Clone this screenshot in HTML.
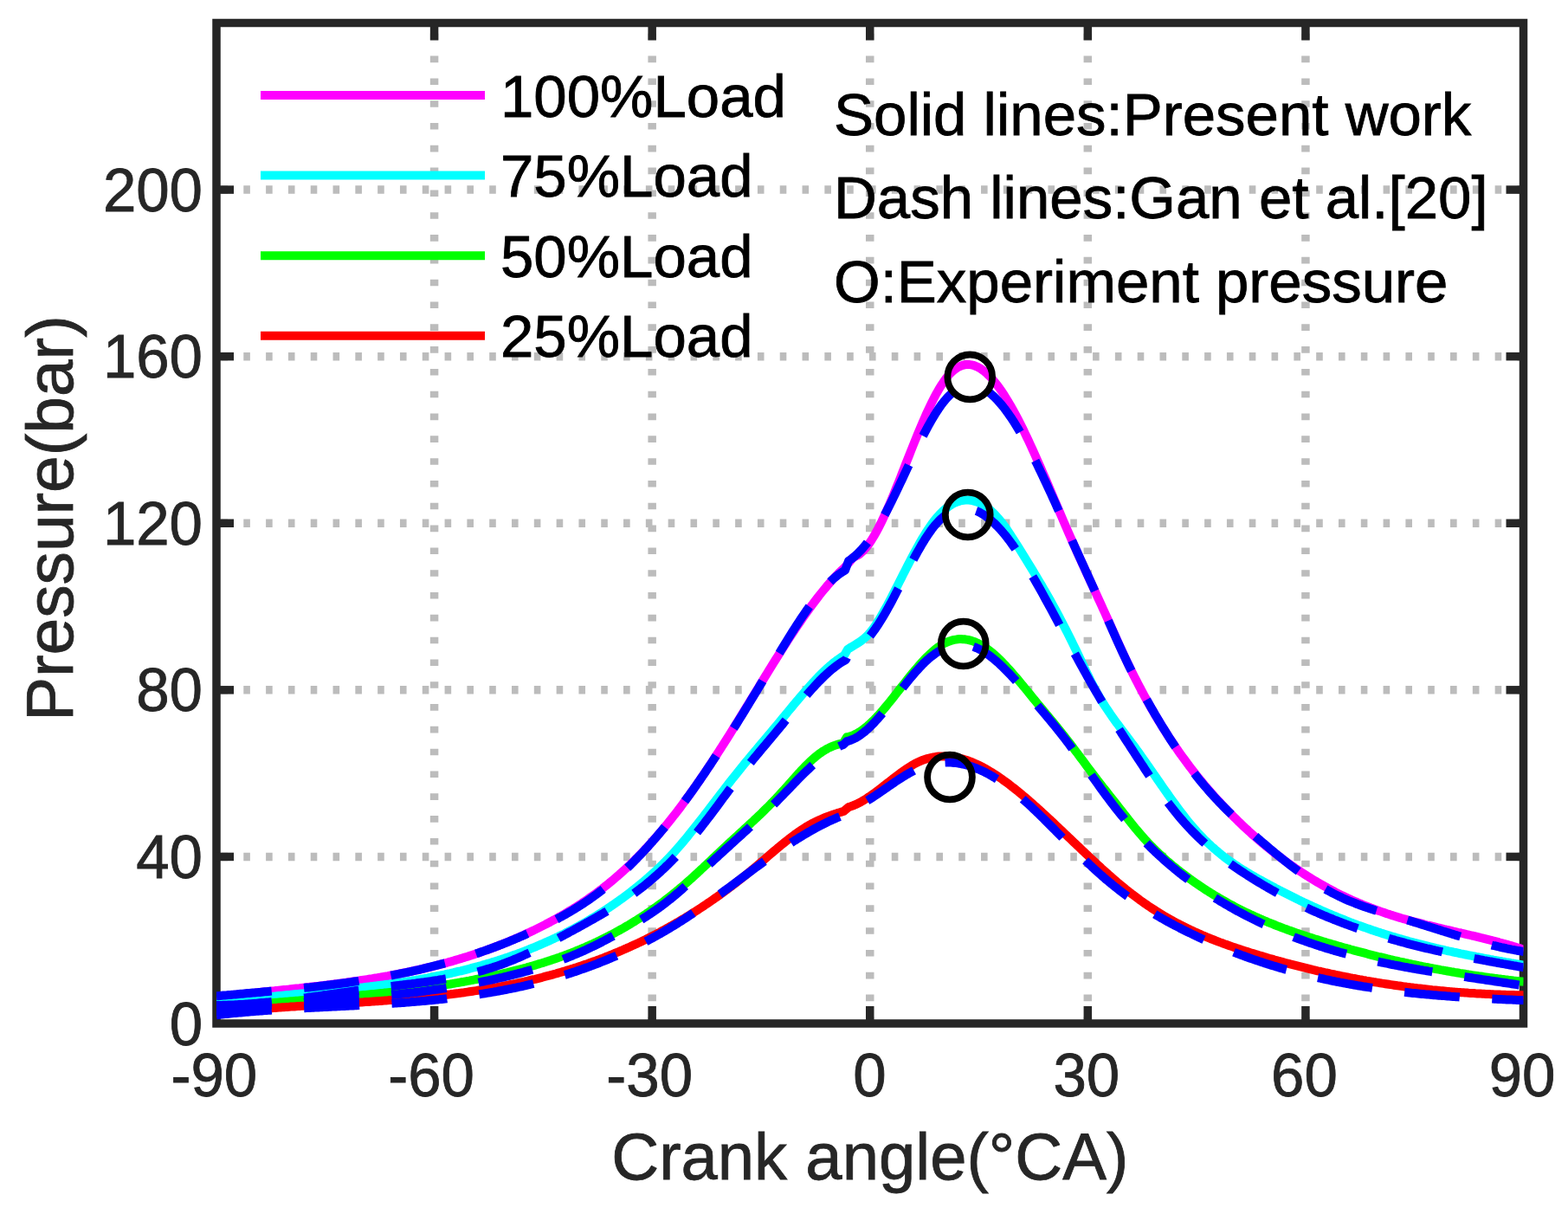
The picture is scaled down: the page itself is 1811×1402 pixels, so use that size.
<!DOCTYPE html><html><head><meta charset="utf-8"><title>Pressure vs crank angle</title>
<style>html,body{margin:0;padding:0;background:#fff;overflow:hidden}svg{display:block}text{font-family:"Liberation Sans",Arial,Helvetica,sans-serif;stroke-width:0.8px}</style></head><body>
<svg width="1811" height="1402" viewBox="0 0 1811 1402">
<rect width="1811" height="1402" fill="#fff"/>
<defs><clipPath id="ax"><rect x="250.0" y="26.5" width="1509.5" height="1155.5"/></clipPath></defs>
<g stroke="#bcbcbc" stroke-width="9.5" fill="none"><line x1="501.58" y1="1182.0" x2="501.58" y2="26.5" stroke-dasharray="7.6 18.21" stroke-dashoffset="0"/><line x1="753.17" y1="1182.0" x2="753.17" y2="26.5" stroke-dasharray="7.6 18.21" stroke-dashoffset="0"/><line x1="1004.75" y1="1182.0" x2="1004.75" y2="26.5" stroke-dasharray="7.6 18.21" stroke-dashoffset="0"/><line x1="1256.33" y1="1182.0" x2="1256.33" y2="26.5" stroke-dasharray="7.6 18.21" stroke-dashoffset="0"/><line x1="1507.92" y1="1182.0" x2="1507.92" y2="26.5" stroke-dasharray="7.6 18.21" stroke-dashoffset="0"/><line x1="250.0" y1="989.42" x2="1759.5" y2="989.42" stroke-dasharray="7.6 18.21" stroke-dashoffset="-5.48"/><line x1="250.0" y1="796.83" x2="1759.5" y2="796.83" stroke-dasharray="7.6 18.21" stroke-dashoffset="-5.48"/><line x1="250.0" y1="604.25" x2="1759.5" y2="604.25" stroke-dasharray="7.6 18.21" stroke-dashoffset="-5.48"/><line x1="250.0" y1="411.67" x2="1759.5" y2="411.67" stroke-dasharray="7.6 18.21" stroke-dashoffset="-5.48"/><line x1="250.0" y1="219.08" x2="1759.5" y2="219.08" stroke-dasharray="7.6 18.21" stroke-dashoffset="-5.48"/></g>
<g stroke="#262626" stroke-width="9.5" fill="none"><rect x="250.0" y="26.5" width="1509.5" height="1155.5" fill="none"/><line x1="501.58" y1="1182.0" x2="501.58" y2="1162.0"/><line x1="501.58" y1="26.5" x2="501.58" y2="46.5"/><line x1="753.17" y1="1182.0" x2="753.17" y2="1162.0"/><line x1="753.17" y1="26.5" x2="753.17" y2="46.5"/><line x1="1004.75" y1="1182.0" x2="1004.75" y2="1162.0"/><line x1="1004.75" y1="26.5" x2="1004.75" y2="46.5"/><line x1="1256.33" y1="1182.0" x2="1256.33" y2="1162.0"/><line x1="1256.33" y1="26.5" x2="1256.33" y2="46.5"/><line x1="1507.92" y1="1182.0" x2="1507.92" y2="1162.0"/><line x1="1507.92" y1="26.5" x2="1507.92" y2="46.5"/><line x1="250.0" y1="989.42" x2="270.0" y2="989.42"/><line x1="1759.5" y1="989.42" x2="1739.5" y2="989.42"/><line x1="250.0" y1="796.83" x2="270.0" y2="796.83"/><line x1="1759.5" y1="796.83" x2="1739.5" y2="796.83"/><line x1="250.0" y1="604.25" x2="270.0" y2="604.25"/><line x1="1759.5" y1="604.25" x2="1739.5" y2="604.25"/><line x1="250.0" y1="411.67" x2="270.0" y2="411.67"/><line x1="1759.5" y1="411.67" x2="1739.5" y2="411.67"/><line x1="250.0" y1="219.08" x2="270.0" y2="219.08"/><line x1="1759.5" y1="219.08" x2="1739.5" y2="219.08"/></g>
<g clip-path="url(#ax)" fill="none" stroke-width="10" stroke-linejoin="round">
<polyline stroke="#ff00ff" points="250.0,1151.5 252.0,1151.3 254.0,1151.1 256.0,1150.8 258.0,1150.6 260.0,1150.4 262.0,1150.1 264.0,1149.9 266.0,1149.7 268.0,1149.5 270.0,1149.2 272.0,1149.0 274.0,1148.8 276.0,1148.6 278.0,1148.4 280.0,1148.2 282.0,1147.9 284.0,1147.7 286.0,1147.5 288.0,1147.3 290.0,1147.1 292.0,1146.9 294.0,1146.7 296.0,1146.4 298.0,1146.2 300.0,1146.0 302.0,1145.8 304.0,1145.6 306.0,1145.4 308.0,1145.2 310.0,1145.0 312.0,1144.8 314.0,1144.6 316.0,1144.4 318.0,1144.1 320.0,1143.9 322.0,1143.7 324.0,1143.5 326.0,1143.3 328.0,1143.1 330.0,1142.9 332.0,1142.7 334.0,1142.5 336.0,1142.2 338.0,1142.0 340.0,1141.8 342.0,1141.6 344.0,1141.4 346.0,1141.2 348.0,1140.9 350.0,1140.7 352.0,1140.5 354.0,1140.3 356.0,1140.1 358.0,1139.8 360.0,1139.6 362.0,1139.4 364.0,1139.1 366.0,1138.9 368.0,1138.7 370.0,1138.4 372.0,1138.2 374.0,1138.0 376.0,1137.7 378.0,1137.5 380.0,1137.2 382.0,1137.0 384.0,1136.7 386.0,1136.5 388.0,1136.2 390.0,1136.0 392.0,1135.7 394.0,1135.4 396.0,1135.2 398.0,1134.9 400.0,1134.6 402.0,1134.3 404.0,1134.1 406.0,1133.8 408.0,1133.5 410.0,1133.2 412.0,1132.9 414.0,1132.6 416.0,1132.3 418.0,1132.0 420.0,1131.7 422.0,1131.4 424.0,1131.1 426.0,1130.8 428.0,1130.5 430.0,1130.2 432.0,1129.8 434.0,1129.5 436.0,1129.2 438.0,1128.8 440.0,1128.5 442.0,1128.1 444.0,1127.8 446.0,1127.4 448.0,1127.1 450.0,1126.7 452.0,1126.3 454.0,1126.0 456.0,1125.6 458.0,1125.2 460.0,1124.8 462.0,1124.4 464.0,1124.0 466.0,1123.6 468.0,1123.2 470.0,1122.8 472.0,1122.4 474.0,1122.0 476.0,1121.5 478.0,1121.1 480.0,1120.7 482.0,1120.2 484.0,1119.8 486.0,1119.3 488.0,1118.9 490.0,1118.4 492.0,1117.9 494.0,1117.4 496.0,1117.0 498.0,1116.5 500.0,1116.0 502.0,1115.5 504.0,1115.0 506.0,1114.4 508.0,1113.9 510.0,1113.4 512.0,1112.9 514.0,1112.3 516.0,1111.8 518.0,1111.2 520.0,1110.7 522.0,1110.1 524.0,1109.5 526.0,1108.9 528.0,1108.3 530.0,1107.7 532.0,1107.1 534.0,1106.5 536.0,1105.9 538.0,1105.3 540.0,1104.7 542.0,1104.0 544.0,1103.4 546.0,1102.7 548.0,1102.1 550.0,1101.4 552.0,1100.7 554.0,1100.0 556.0,1099.3 558.0,1098.6 560.0,1097.9 562.0,1097.2 564.0,1096.5 566.0,1095.8 568.0,1095.0 570.0,1094.3 572.0,1093.5 574.0,1092.7 576.0,1092.0 578.0,1091.2 580.0,1090.4 582.0,1089.6 584.0,1088.8 586.0,1088.0 588.0,1087.1 590.0,1086.3 592.0,1085.4 594.0,1084.6 596.0,1083.7 598.0,1082.9 600.0,1082.0 602.0,1081.1 604.0,1080.2 606.0,1079.3 608.0,1078.3 610.0,1077.4 612.0,1076.5 614.0,1075.5 616.0,1074.6 618.0,1073.6 620.0,1072.6 622.0,1071.6 624.0,1070.6 626.0,1069.6 628.0,1068.6 630.0,1067.6 632.0,1066.5 634.0,1065.5 636.0,1064.4 638.0,1063.3 640.0,1062.3 642.0,1061.2 644.0,1060.1 646.0,1058.9 648.0,1057.8 650.0,1056.7 652.0,1055.5 654.0,1054.3 656.0,1053.1 658.0,1051.9 660.0,1050.7 662.0,1049.5 664.0,1048.2 666.0,1047.0 668.0,1045.7 670.0,1044.4 672.0,1043.1 674.0,1041.7 676.0,1040.4 678.0,1039.0 680.0,1037.6 682.0,1036.2 684.0,1034.8 686.0,1033.4 688.0,1031.9 690.0,1030.4 692.0,1029.0 694.0,1027.4 696.0,1025.9 698.0,1024.3 700.0,1022.8 702.0,1021.2 704.0,1019.5 706.0,1017.9 708.0,1016.2 710.0,1014.5 712.0,1012.8 714.0,1011.1 716.0,1009.3 718.0,1007.5 720.0,1005.7 722.0,1003.9 724.0,1002.0 726.0,1000.2 728.0,998.3 730.0,996.3 732.0,994.4 734.0,992.4 736.0,990.4 738.0,988.3 740.0,986.3 742.0,984.2 744.0,982.1 746.0,980.0 748.0,977.8 750.0,975.6 752.0,973.4 754.0,971.2 756.0,968.9 758.0,966.6 760.0,964.3 762.0,962.0 764.0,959.6 766.0,957.2 768.0,954.8 770.0,952.4 772.0,949.9 774.0,947.4 776.0,944.9 778.0,942.3 780.0,939.8 782.0,937.2 784.0,934.6 786.0,931.9 788.0,929.3 790.0,926.6 792.0,923.8 794.0,921.1 796.0,918.3 798.0,915.5 800.0,912.7 802.0,909.9 804.0,907.0 806.0,904.2 808.0,901.3 810.0,898.3 812.0,895.4 814.0,892.4 816.0,889.5 818.0,886.5 820.0,883.5 822.0,880.4 824.0,877.4 826.0,874.3 828.0,871.2 830.0,868.1 832.0,865.0 834.0,861.9 836.0,858.8 838.0,855.6 840.0,852.5 842.0,849.3 844.0,846.1 846.0,842.9 848.0,839.7 850.0,836.4 852.0,833.2 854.0,830.0 856.0,826.7 858.0,823.5 860.0,820.2 862.0,816.9 864.0,813.7 866.0,810.4 868.0,807.1 870.0,803.8 872.0,800.6 874.0,797.3 876.0,794.0 878.0,790.7 880.0,787.5 882.0,784.2 884.0,780.9 886.0,777.7 888.0,774.4 890.0,771.2 892.0,767.9 894.0,764.7 896.0,761.5 898.0,758.3 900.0,755.1 902.0,751.9 904.0,748.8 906.0,745.6 908.0,742.5 910.0,739.4 912.0,736.3 914.0,733.3 916.0,730.2 918.0,727.2 920.0,724.2 922.0,721.2 924.0,718.3 926.0,715.4 928.0,712.5 930.0,709.6 932.0,706.8 934.0,704.0 936.0,701.3 938.0,698.5 940.0,695.9 942.0,693.2 944.0,690.6 946.0,688.0 948.0,685.5 950.0,683.0 952.0,680.6 954.0,678.2 956.0,675.8 958.0,673.5 960.0,671.2 962.0,669.0 964.0,666.8 966.0,664.7 968.0,662.6 970.0,660.6 972.0,658.7 974.0,656.8 976.0,654.9 986.0,643.2 988.0,642.6 990.0,641.6 992.0,640.4 994.0,638.9 996.0,637.1 998.0,635.0 1000.0,632.8 1002.0,630.3 1004.0,627.5 1006.0,624.6 1008.0,621.4 1010.0,618.1 1012.0,614.5 1014.0,610.8 1016.0,606.9 1018.0,602.9 1020.0,598.8 1022.0,594.5 1024.0,590.0 1026.0,585.5 1028.0,580.9 1030.0,576.1 1032.0,571.3 1034.0,566.4 1036.0,561.5 1038.0,556.5 1040.0,551.5 1042.0,546.4 1044.0,541.3 1046.0,536.2 1048.0,531.2 1050.0,526.1 1052.0,521.0 1054.0,516.0 1056.0,511.0 1058.0,506.1 1060.0,501.2 1062.0,496.4 1064.0,491.6 1066.0,487.0 1068.0,482.4 1070.0,477.9 1072.0,473.6 1074.0,469.3 1076.0,465.2 1078.0,461.2 1080.0,457.4 1082.0,453.7 1084.0,450.2 1086.0,446.9 1088.0,443.7 1090.0,440.7 1092.0,437.9 1094.0,435.3 1096.0,432.9 1098.0,430.8 1100.0,428.9 1102.0,427.2 1104.0,425.7 1106.0,424.4 1108.0,423.3 1110.0,422.5 1112.0,421.8 1114.0,421.3 1116.0,421.0 1118.0,421.0 1120.0,421.1 1122.0,421.4 1124.0,421.8 1126.0,422.5 1128.0,423.3 1130.0,424.3 1132.0,425.4 1134.0,426.7 1136.0,428.2 1138.0,429.8 1140.0,431.6 1142.0,433.5 1144.0,435.5 1146.0,437.7 1148.0,440.1 1150.0,442.5 1152.0,445.1 1154.0,447.8 1156.0,450.6 1158.0,453.6 1160.0,456.6 1162.0,459.8 1164.0,463.1 1166.0,466.5 1168.0,469.9 1170.0,473.5 1172.0,477.1 1174.0,480.9 1176.0,484.7 1178.0,488.6 1180.0,492.6 1182.0,496.6 1184.0,500.8 1186.0,505.0 1188.0,509.2 1190.0,513.5 1192.0,517.8 1194.0,522.3 1196.0,526.7 1198.0,531.2 1200.0,535.7 1202.0,540.3 1204.0,544.9 1206.0,549.5 1208.0,554.1 1210.0,558.8 1212.0,563.5 1214.0,568.2 1216.0,572.9 1218.0,577.6 1220.0,582.3 1222.0,587.0 1224.0,591.7 1226.0,596.4 1228.0,601.1 1230.0,605.7 1232.0,610.4 1234.0,615.0 1236.0,619.6 1238.0,624.1 1240.0,628.6 1242.0,633.1 1244.0,637.6 1246.0,642.0 1248.0,646.5 1250.0,650.9 1252.0,655.2 1254.0,659.6 1256.0,664.0 1258.0,668.3 1260.0,672.7 1262.0,677.0 1264.0,681.4 1266.0,685.7 1268.0,690.1 1270.0,694.4 1272.0,698.8 1274.0,703.2 1276.0,707.5 1278.0,712.0 1280.0,716.4 1282.0,720.8 1284.0,725.3 1286.0,729.8 1288.0,734.3 1290.0,738.7 1292.0,743.2 1294.0,747.6 1296.0,752.0 1298.0,756.3 1300.0,760.6 1302.0,764.8 1304.0,769.0 1306.0,773.1 1308.0,777.2 1310.0,781.2 1312.0,785.1 1314.0,789.0 1316.0,792.8 1318.0,796.6 1320.0,800.4 1322.0,804.1 1324.0,807.7 1326.0,811.3 1328.0,814.9 1330.0,818.4 1332.0,821.8 1334.0,825.3 1336.0,828.6 1338.0,832.0 1340.0,835.2 1342.0,838.5 1344.0,841.7 1346.0,844.9 1348.0,848.0 1350.0,851.1 1352.0,854.1 1354.0,857.1 1356.0,860.1 1358.0,863.0 1360.0,865.9 1362.0,868.8 1364.0,871.6 1366.0,874.4 1368.0,877.1 1370.0,879.8 1372.0,882.5 1374.0,885.2 1376.0,887.8 1378.0,890.4 1380.0,892.9 1382.0,895.5 1384.0,897.9 1386.0,900.4 1388.0,902.8 1390.0,905.2 1392.0,907.6 1394.0,910.0 1396.0,912.3 1398.0,914.6 1400.0,916.9 1402.0,919.1 1404.0,921.3 1406.0,923.5 1408.0,925.7 1410.0,927.9 1412.0,930.0 1414.0,932.1 1416.0,934.2 1418.0,936.3 1420.0,938.3 1422.0,940.3 1424.0,942.4 1426.0,944.3 1428.0,946.3 1430.0,948.3 1432.0,950.2 1434.0,952.1 1436.0,954.0 1438.0,955.9 1440.0,957.7 1442.0,959.6 1444.0,961.4 1446.0,963.2 1448.0,965.0 1450.0,966.7 1452.0,968.5 1454.0,970.2 1456.0,971.9 1458.0,973.6 1460.0,975.3 1462.0,977.0 1464.0,978.6 1466.0,980.2 1468.0,981.8 1470.0,983.4 1472.0,985.0 1474.0,986.6 1476.0,988.1 1478.0,989.6 1480.0,991.1 1482.0,992.6 1484.0,994.1 1486.0,995.5 1488.0,997.0 1490.0,998.4 1492.0,999.8 1494.0,1001.2 1496.0,1002.6 1498.0,1003.9 1500.0,1005.3 1502.0,1006.6 1504.0,1007.9 1506.0,1009.2 1508.0,1010.5 1510.0,1011.8 1512.0,1013.0 1514.0,1014.3 1516.0,1015.5 1518.0,1016.7 1520.0,1017.9 1522.0,1019.1 1524.0,1020.2 1526.0,1021.4 1528.0,1022.5 1530.0,1023.6 1532.0,1024.7 1534.0,1025.8 1536.0,1026.9 1538.0,1028.0 1540.0,1029.0 1542.0,1030.1 1544.0,1031.1 1546.0,1032.1 1548.0,1033.1 1550.0,1034.1 1552.0,1035.0 1554.0,1036.0 1556.0,1036.9 1558.0,1037.9 1560.0,1038.8 1562.0,1039.7 1564.0,1040.6 1566.0,1041.4 1568.0,1042.3 1570.0,1043.2 1572.0,1044.0 1574.0,1044.8 1576.0,1045.6 1578.0,1046.4 1580.0,1047.2 1582.0,1048.0 1584.0,1048.8 1586.0,1049.5 1588.0,1050.3 1590.0,1051.0 1592.0,1051.7 1594.0,1052.4 1596.0,1053.1 1598.0,1053.8 1600.0,1054.5 1602.0,1055.2 1604.0,1055.8 1606.0,1056.5 1608.0,1057.1 1610.0,1057.7 1612.0,1058.4 1614.0,1059.0 1616.0,1059.6 1618.0,1060.2 1620.0,1060.8 1622.0,1061.3 1624.0,1061.9 1626.0,1062.5 1628.0,1063.0 1630.0,1063.6 1632.0,1064.1 1634.0,1064.7 1636.0,1065.2 1638.0,1065.7 1640.0,1066.2 1642.0,1066.7 1644.0,1067.2 1646.0,1067.8 1648.0,1068.3 1650.0,1068.7 1652.0,1069.2 1654.0,1069.7 1656.0,1070.2 1658.0,1070.7 1660.0,1071.2 1662.0,1071.6 1664.0,1072.1 1666.0,1072.6 1668.0,1073.1 1670.0,1073.5 1672.0,1074.0 1674.0,1074.4 1676.0,1074.9 1678.0,1075.4 1680.0,1075.8 1682.0,1076.3 1684.0,1076.8 1686.0,1077.2 1688.0,1077.7 1690.0,1078.1 1692.0,1078.6 1694.0,1079.1 1696.0,1079.5 1698.0,1080.0 1700.0,1080.5 1702.0,1080.9 1704.0,1081.4 1706.0,1081.9 1708.0,1082.4 1710.0,1082.9 1712.0,1083.3 1714.0,1083.8 1716.0,1084.3 1718.0,1084.8 1720.0,1085.3 1722.0,1085.8 1724.0,1086.4 1726.0,1086.9 1728.0,1087.4 1730.0,1087.9 1732.0,1088.5 1734.0,1089.0 1736.0,1089.6 1738.0,1090.1 1740.0,1090.7 1742.0,1091.2 1744.0,1091.8 1746.0,1092.4 1748.0,1093.0 1750.0,1093.6 1752.0,1094.2 1754.0,1094.8 1756.0,1095.4 1758.0,1096.1 1760.0,1096.7"/>
<polyline stroke="#00ffff" points="250.0,1158.3 252.0,1158.0 254.0,1157.7 256.0,1157.5 258.0,1157.2 260.0,1156.9 262.0,1156.7 264.0,1156.4 266.0,1156.2 268.0,1155.9 270.0,1155.7 272.0,1155.4 274.0,1155.2 276.0,1155.0 278.0,1154.7 280.0,1154.5 282.0,1154.3 284.0,1154.0 286.0,1153.8 288.0,1153.6 290.0,1153.4 292.0,1153.1 294.0,1152.9 296.0,1152.7 298.0,1152.5 300.0,1152.3 302.0,1152.1 304.0,1151.9 306.0,1151.7 308.0,1151.5 310.0,1151.3 312.0,1151.1 314.0,1150.9 316.0,1150.7 318.0,1150.5 320.0,1150.3 322.0,1150.1 324.0,1149.9 326.0,1149.7 328.0,1149.5 330.0,1149.3 332.0,1149.1 334.0,1148.9 336.0,1148.7 338.0,1148.5 340.0,1148.3 342.0,1148.1 344.0,1148.0 346.0,1147.8 348.0,1147.6 350.0,1147.4 352.0,1147.2 354.0,1147.0 356.0,1146.8 358.0,1146.6 360.0,1146.4 362.0,1146.3 364.0,1146.1 366.0,1145.9 368.0,1145.7 370.0,1145.5 372.0,1145.3 374.0,1145.1 376.0,1144.9 378.0,1144.7 380.0,1144.5 382.0,1144.3 384.0,1144.1 386.0,1143.9 388.0,1143.7 390.0,1143.5 392.0,1143.3 394.0,1143.1 396.0,1142.9 398.0,1142.7 400.0,1142.5 402.0,1142.3 404.0,1142.1 406.0,1141.8 408.0,1141.6 410.0,1141.4 412.0,1141.2 414.0,1141.0 416.0,1140.7 418.0,1140.5 420.0,1140.3 422.0,1140.0 424.0,1139.8 426.0,1139.6 428.0,1139.3 430.0,1139.1 432.0,1138.8 434.0,1138.6 436.0,1138.3 438.0,1138.1 440.0,1137.8 442.0,1137.6 444.0,1137.3 446.0,1137.0 448.0,1136.7 450.0,1136.5 452.0,1136.2 454.0,1135.9 456.0,1135.6 458.0,1135.3 460.0,1135.0 462.0,1134.7 464.0,1134.4 466.0,1134.1 468.0,1133.8 470.0,1133.5 472.0,1133.2 474.0,1132.9 476.0,1132.5 478.0,1132.2 480.0,1131.9 482.0,1131.5 484.0,1131.2 486.0,1130.8 488.0,1130.5 490.0,1130.1 492.0,1129.7 494.0,1129.4 496.0,1129.0 498.0,1128.6 500.0,1128.2 502.0,1127.8 504.0,1127.4 506.0,1127.0 508.0,1126.6 510.0,1126.2 512.0,1125.8 514.0,1125.4 516.0,1124.9 518.0,1124.5 520.0,1124.1 522.0,1123.6 524.0,1123.2 526.0,1122.7 528.0,1122.2 530.0,1121.7 532.0,1121.3 534.0,1120.8 536.0,1120.3 538.0,1119.8 540.0,1119.3 542.0,1118.8 544.0,1118.2 546.0,1117.7 548.0,1117.2 550.0,1116.6 552.0,1116.1 554.0,1115.5 556.0,1115.0 558.0,1114.4 560.0,1113.8 562.0,1113.2 564.0,1112.7 566.0,1112.1 568.0,1111.4 570.0,1110.8 572.0,1110.2 574.0,1109.6 576.0,1108.9 578.0,1108.3 580.0,1107.6 582.0,1107.0 584.0,1106.3 586.0,1105.6 588.0,1104.9 590.0,1104.2 592.0,1103.5 594.0,1102.8 596.0,1102.1 598.0,1101.4 600.0,1100.6 602.0,1099.9 604.0,1099.1 606.0,1098.4 608.0,1097.6 610.0,1096.8 612.0,1096.0 614.0,1095.2 616.0,1094.4 618.0,1093.6 620.0,1092.7 622.0,1091.9 624.0,1091.0 626.0,1090.2 628.0,1089.3 630.0,1088.4 632.0,1087.5 634.0,1086.6 636.0,1085.7 638.0,1084.8 640.0,1083.9 642.0,1082.9 644.0,1082.0 646.0,1081.0 648.0,1080.0 650.0,1079.1 652.0,1078.1 654.0,1077.0 656.0,1076.0 658.0,1075.0 660.0,1073.9 662.0,1072.9 664.0,1071.8 666.0,1070.7 668.0,1069.7 670.0,1068.5 672.0,1067.4 674.0,1066.3 676.0,1065.2 678.0,1064.0 680.0,1062.8 682.0,1061.6 684.0,1060.4 686.0,1059.2 688.0,1058.0 690.0,1056.8 692.0,1055.5 694.0,1054.2 696.0,1053.0 698.0,1051.7 700.0,1050.4 702.0,1049.0 704.0,1047.7 706.0,1046.3 708.0,1045.0 710.0,1043.6 712.0,1042.2 714.0,1040.8 716.0,1039.3 718.0,1037.9 720.0,1036.4 722.0,1034.9 724.0,1033.4 726.0,1031.9 728.0,1030.4 730.0,1028.8 732.0,1027.3 734.0,1025.7 736.0,1024.1 738.0,1022.5 740.0,1020.8 742.0,1019.2 744.0,1017.5 746.0,1015.8 748.0,1014.1 750.0,1012.3 752.0,1010.5 754.0,1008.7 756.0,1006.9 758.0,1005.1 760.0,1003.2 762.0,1001.3 764.0,999.3 766.0,997.4 768.0,995.4 770.0,993.3 772.0,991.3 774.0,989.1 776.0,987.0 778.0,984.8 780.0,982.6 782.0,980.3 784.0,978.0 786.0,975.7 788.0,973.4 790.0,971.0 792.0,968.6 794.0,966.2 796.0,963.7 798.0,961.2 800.0,958.7 802.0,956.2 804.0,953.7 806.0,951.2 808.0,948.6 810.0,946.0 812.0,943.5 814.0,940.9 816.0,938.3 818.0,935.7 820.0,933.1 822.0,930.4 824.0,927.8 826.0,925.2 828.0,922.6 830.0,920.0 832.0,917.4 834.0,914.8 836.0,912.2 838.0,909.6 840.0,907.0 842.0,904.4 844.0,901.9 846.0,899.3 848.0,896.8 850.0,894.3 852.0,891.8 854.0,889.3 856.0,886.8 858.0,884.4 860.0,881.9 862.0,879.5 864.0,877.1 866.0,874.7 868.0,872.3 870.0,869.9 872.0,867.5 874.0,865.1 876.0,862.7 878.0,860.4 880.0,858.0 882.0,855.6 884.0,853.3 886.0,850.9 888.0,848.5 890.0,846.1 892.0,843.7 894.0,841.4 896.0,839.0 898.0,836.5 900.0,834.1 902.0,831.7 904.0,829.3 906.0,826.9 908.0,824.5 910.0,822.0 912.0,819.6 914.0,817.2 916.0,814.8 918.0,812.4 920.0,810.0 922.0,807.7 924.0,805.3 926.0,803.0 928.0,800.6 930.0,798.3 932.0,796.0 934.0,793.8 936.0,791.5 938.0,789.3 940.0,787.2 942.0,785.0 944.0,782.9 946.0,780.8 948.0,778.8 950.0,776.8 952.0,774.9 954.0,773.0 956.0,771.2 958.0,769.4 960.0,767.7 962.0,766.0 964.0,764.4 966.0,762.9 968.0,761.5 970.0,760.1 972.0,758.8 974.0,757.5 975.0,756.9 979.0,749.9 981.0,748.6 983.0,747.4 985.0,746.2 987.0,745.0 989.0,743.8 991.0,742.5 993.0,741.2 995.0,739.8 997.0,738.2 999.0,736.5 1001.0,734.7 1003.0,732.6 1005.0,730.4 1007.0,727.9 1009.0,725.2 1011.0,722.4 1013.0,719.3 1015.0,716.1 1017.0,712.8 1019.0,709.4 1021.0,705.8 1023.0,702.2 1025.0,698.6 1027.0,694.8 1029.0,691.0 1031.0,687.2 1033.0,683.3 1035.0,679.4 1037.0,675.5 1039.0,671.5 1041.0,667.6 1043.0,663.6 1045.0,659.7 1047.0,655.8 1049.0,651.9 1051.0,648.0 1053.0,644.2 1055.0,640.4 1057.0,636.6 1059.0,633.0 1061.0,629.4 1063.0,625.8 1065.0,622.4 1067.0,619.1 1069.0,615.8 1071.0,612.7 1073.0,609.7 1075.0,606.8 1077.0,604.0 1079.0,601.4 1081.0,598.9 1083.0,596.5 1085.0,594.3 1087.0,592.3 1089.0,590.3 1091.0,588.5 1093.0,586.9 1095.0,585.4 1097.0,584.0 1099.0,582.7 1101.0,581.6 1103.0,580.6 1105.0,579.8 1107.0,579.1 1109.0,578.5 1111.0,578.0 1113.0,577.7 1115.0,577.5 1117.0,577.5 1119.0,577.5 1121.0,577.8 1123.0,578.1 1125.0,578.6 1127.0,579.2 1129.0,579.9 1131.0,580.7 1133.0,581.7 1135.0,582.8 1137.0,584.1 1139.0,585.4 1141.0,586.9 1143.0,588.5 1145.0,590.3 1147.0,592.2 1149.0,594.1 1151.0,596.3 1153.0,598.5 1155.0,600.9 1157.0,603.4 1159.0,606.0 1161.0,608.7 1163.0,611.5 1165.0,614.5 1167.0,617.5 1169.0,620.6 1171.0,623.7 1173.0,626.9 1175.0,630.0 1177.0,633.2 1179.0,636.4 1181.0,639.6 1183.0,642.9 1185.0,646.1 1187.0,649.3 1189.0,652.6 1191.0,655.9 1193.0,659.2 1195.0,662.5 1197.0,665.8 1199.0,669.2 1201.0,672.5 1203.0,675.9 1205.0,679.4 1207.0,682.8 1209.0,686.3 1211.0,689.8 1213.0,693.3 1215.0,696.9 1217.0,700.6 1219.0,704.2 1221.0,707.9 1223.0,711.7 1225.0,715.5 1227.0,719.3 1229.0,723.2 1231.0,727.1 1233.0,731.0 1235.0,735.0 1237.0,739.0 1239.0,743.1 1241.0,747.2 1243.0,751.3 1245.0,755.5 1247.0,759.7 1249.0,763.9 1251.0,768.2 1253.0,772.4 1255.0,776.7 1257.0,780.8 1259.0,784.9 1261.0,788.9 1263.0,792.7 1265.0,796.5 1267.0,800.1 1269.0,803.6 1271.0,807.0 1273.0,810.3 1275.0,813.5 1277.0,816.6 1279.0,819.6 1281.0,822.6 1283.0,825.5 1285.0,828.4 1287.0,831.2 1289.0,833.9 1291.0,836.6 1293.0,839.3 1295.0,842.0 1297.0,844.6 1299.0,847.3 1301.0,849.9 1303.0,852.5 1305.0,855.2 1307.0,857.9 1309.0,860.6 1311.0,863.3 1313.0,866.1 1315.0,868.8 1317.0,871.6 1319.0,874.5 1321.0,877.3 1323.0,880.1 1325.0,883.0 1327.0,885.9 1329.0,888.8 1331.0,891.6 1333.0,894.5 1335.0,897.4 1337.0,900.3 1339.0,903.2 1341.0,906.1 1343.0,909.0 1345.0,911.8 1347.0,914.7 1349.0,917.5 1351.0,920.3 1353.0,923.1 1355.0,925.9 1357.0,928.6 1359.0,931.4 1361.0,934.0 1363.0,936.7 1365.0,939.3 1367.0,941.9 1369.0,944.5 1371.0,947.0 1373.0,949.5 1375.0,951.9 1377.0,954.3 1379.0,956.6 1381.0,958.9 1383.0,961.1 1385.0,963.2 1387.0,965.4 1389.0,967.4 1391.0,969.5 1393.0,971.4 1395.0,973.4 1397.0,975.2 1399.0,977.1 1401.0,978.9 1403.0,980.6 1405.0,982.4 1407.0,984.0 1409.0,985.7 1411.0,987.3 1413.0,988.9 1415.0,990.4 1417.0,991.9 1419.0,993.4 1421.0,994.8 1423.0,996.2 1425.0,997.6 1427.0,999.0 1429.0,1000.3 1431.0,1001.6 1433.0,1002.9 1435.0,1004.2 1437.0,1005.4 1439.0,1006.6 1441.0,1007.9 1443.0,1009.0 1445.0,1010.2 1447.0,1011.4 1449.0,1012.5 1451.0,1013.7 1453.0,1014.8 1455.0,1015.9 1457.0,1017.0 1459.0,1018.1 1461.0,1019.2 1463.0,1020.3 1465.0,1021.3 1467.0,1022.4 1469.0,1023.5 1471.0,1024.5 1473.0,1025.6 1475.0,1026.6 1477.0,1027.7 1479.0,1028.7 1481.0,1029.8 1483.0,1030.8 1485.0,1031.8 1487.0,1032.8 1489.0,1033.8 1491.0,1034.8 1493.0,1035.8 1495.0,1036.8 1497.0,1037.8 1499.0,1038.8 1501.0,1039.7 1503.0,1040.7 1505.0,1041.6 1507.0,1042.6 1509.0,1043.5 1511.0,1044.5 1513.0,1045.4 1515.0,1046.3 1517.0,1047.2 1519.0,1048.1 1521.0,1049.0 1523.0,1049.9 1525.0,1050.8 1527.0,1051.7 1529.0,1052.6 1531.0,1053.5 1533.0,1054.3 1535.0,1055.2 1537.0,1056.0 1539.0,1056.9 1541.0,1057.7 1543.0,1058.5 1545.0,1059.3 1547.0,1060.1 1549.0,1060.9 1551.0,1061.7 1553.0,1062.5 1555.0,1063.3 1557.0,1064.1 1559.0,1064.9 1561.0,1065.6 1563.0,1066.4 1565.0,1067.1 1567.0,1067.9 1569.0,1068.6 1571.0,1069.3 1573.0,1070.0 1575.0,1070.7 1577.0,1071.4 1579.0,1072.1 1581.0,1072.8 1583.0,1073.5 1585.0,1074.2 1587.0,1074.9 1589.0,1075.5 1591.0,1076.2 1593.0,1076.8 1595.0,1077.5 1597.0,1078.1 1599.0,1078.7 1601.0,1079.4 1603.0,1080.0 1605.0,1080.6 1607.0,1081.2 1609.0,1081.8 1611.0,1082.4 1613.0,1083.0 1615.0,1083.6 1617.0,1084.2 1619.0,1084.7 1621.0,1085.3 1623.0,1085.9 1625.0,1086.4 1627.0,1087.0 1629.0,1087.5 1631.0,1088.0 1633.0,1088.6 1635.0,1089.1 1637.0,1089.6 1639.0,1090.2 1641.0,1090.7 1643.0,1091.2 1645.0,1091.7 1647.0,1092.2 1649.0,1092.7 1651.0,1093.2 1653.0,1093.6 1655.0,1094.1 1657.0,1094.6 1659.0,1095.1 1661.0,1095.5 1663.0,1096.0 1665.0,1096.5 1667.0,1096.9 1669.0,1097.4 1671.0,1097.8 1673.0,1098.3 1675.0,1098.7 1677.0,1099.1 1679.0,1099.6 1681.0,1100.0 1683.0,1100.4 1685.0,1100.8 1687.0,1101.3 1689.0,1101.7 1691.0,1102.1 1693.0,1102.5 1695.0,1102.9 1697.0,1103.3 1699.0,1103.7 1701.0,1104.1 1703.0,1104.5 1705.0,1104.9 1707.0,1105.2 1709.0,1105.6 1711.0,1106.0 1713.0,1106.4 1715.0,1106.8 1717.0,1107.1 1719.0,1107.5 1721.0,1107.9 1723.0,1108.2 1725.0,1108.6 1727.0,1108.9 1729.0,1109.3 1731.0,1109.7 1733.0,1110.0 1735.0,1110.4 1737.0,1110.7 1739.0,1111.1 1741.0,1111.4 1743.0,1111.7 1745.0,1112.1 1747.0,1112.4 1749.0,1112.8 1751.0,1113.1 1753.0,1113.4 1755.0,1113.8 1757.0,1114.1 1759.0,1114.4 1760.0,1114.6"/>
<polyline stroke="#00ff00" points="250.0,1164.2 252.0,1164.0 254.0,1163.8 256.0,1163.6 258.0,1163.4 260.0,1163.2 262.0,1163.0 264.0,1162.8 266.0,1162.6 268.0,1162.4 270.0,1162.2 272.0,1162.0 274.0,1161.8 276.0,1161.6 278.0,1161.4 280.0,1161.2 282.0,1161.0 284.0,1160.8 286.0,1160.6 288.0,1160.5 290.0,1160.3 292.0,1160.1 294.0,1159.9 296.0,1159.7 298.0,1159.6 300.0,1159.4 302.0,1159.2 304.0,1159.0 306.0,1158.9 308.0,1158.7 310.0,1158.5 312.0,1158.3 314.0,1158.2 316.0,1158.0 318.0,1157.8 320.0,1157.7 322.0,1157.5 324.0,1157.3 326.0,1157.2 328.0,1157.0 330.0,1156.8 332.0,1156.7 334.0,1156.5 336.0,1156.3 338.0,1156.2 340.0,1156.0 342.0,1155.8 344.0,1155.7 346.0,1155.5 348.0,1155.3 350.0,1155.2 352.0,1155.0 354.0,1154.8 356.0,1154.7 358.0,1154.5 360.0,1154.4 362.0,1154.2 364.0,1154.0 366.0,1153.9 368.0,1153.7 370.0,1153.5 372.0,1153.4 374.0,1153.2 376.0,1153.0 378.0,1152.9 380.0,1152.7 382.0,1152.5 384.0,1152.3 386.0,1152.2 388.0,1152.0 390.0,1151.8 392.0,1151.7 394.0,1151.5 396.0,1151.3 398.0,1151.1 400.0,1150.9 402.0,1150.8 404.0,1150.6 406.0,1150.4 408.0,1150.2 410.0,1150.0 412.0,1149.8 414.0,1149.7 416.0,1149.5 418.0,1149.3 420.0,1149.1 422.0,1148.9 424.0,1148.7 426.0,1148.5 428.0,1148.3 430.0,1148.1 432.0,1147.9 434.0,1147.7 436.0,1147.5 438.0,1147.3 440.0,1147.1 442.0,1146.9 444.0,1146.6 446.0,1146.4 448.0,1146.2 450.0,1146.0 452.0,1145.8 454.0,1145.5 456.0,1145.3 458.0,1145.1 460.0,1144.8 462.0,1144.6 464.0,1144.4 466.0,1144.1 468.0,1143.9 470.0,1143.6 472.0,1143.4 474.0,1143.1 476.0,1142.9 478.0,1142.6 480.0,1142.4 482.0,1142.1 484.0,1141.8 486.0,1141.6 488.0,1141.3 490.0,1141.0 492.0,1140.7 494.0,1140.4 496.0,1140.2 498.0,1139.9 500.0,1139.6 502.0,1139.3 504.0,1139.0 506.0,1138.7 508.0,1138.4 510.0,1138.1 512.0,1137.7 514.0,1137.4 516.0,1137.1 518.0,1136.8 520.0,1136.5 522.0,1136.1 524.0,1135.8 526.0,1135.4 528.0,1135.1 530.0,1134.8 532.0,1134.4 534.0,1134.0 536.0,1133.7 538.0,1133.3 540.0,1132.9 542.0,1132.6 544.0,1132.2 546.0,1131.8 548.0,1131.4 550.0,1131.0 552.0,1130.6 554.0,1130.2 556.0,1129.8 558.0,1129.4 560.0,1129.0 562.0,1128.6 564.0,1128.2 566.0,1127.7 568.0,1127.3 570.0,1126.9 572.0,1126.4 574.0,1126.0 576.0,1125.5 578.0,1125.1 580.0,1124.6 582.0,1124.1 584.0,1123.6 586.0,1123.2 588.0,1122.7 590.0,1122.2 592.0,1121.7 594.0,1121.2 596.0,1120.7 598.0,1120.2 600.0,1119.6 602.0,1119.1 604.0,1118.6 606.0,1118.0 608.0,1117.5 610.0,1116.9 612.0,1116.4 614.0,1115.8 616.0,1115.2 618.0,1114.6 620.0,1114.0 622.0,1113.4 624.0,1112.8 626.0,1112.2 628.0,1111.6 630.0,1110.9 632.0,1110.3 634.0,1109.6 636.0,1109.0 638.0,1108.3 640.0,1107.6 642.0,1107.0 644.0,1106.3 646.0,1105.6 648.0,1104.8 650.0,1104.1 652.0,1103.4 654.0,1102.6 656.0,1101.9 658.0,1101.1 660.0,1100.4 662.0,1099.6 664.0,1098.8 666.0,1098.0 668.0,1097.2 670.0,1096.3 672.0,1095.5 674.0,1094.6 676.0,1093.8 678.0,1092.9 680.0,1092.0 682.0,1091.1 684.0,1090.2 686.0,1089.3 688.0,1088.4 690.0,1087.4 692.0,1086.5 694.0,1085.5 696.0,1084.5 698.0,1083.5 700.0,1082.5 702.0,1081.5 704.0,1080.5 706.0,1079.4 708.0,1078.4 710.0,1077.3 712.0,1076.2 714.0,1075.1 716.0,1074.0 718.0,1072.9 720.0,1071.8 722.0,1070.6 724.0,1069.4 726.0,1068.3 728.0,1067.1 730.0,1065.8 732.0,1064.6 734.0,1063.4 736.0,1062.1 738.0,1060.8 740.0,1059.6 742.0,1058.3 744.0,1056.9 746.0,1055.6 748.0,1054.2 750.0,1052.9 752.0,1051.5 754.0,1050.1 756.0,1048.7 758.0,1047.3 760.0,1045.8 762.0,1044.3 764.0,1042.9 766.0,1041.4 768.0,1039.8 770.0,1038.3 772.0,1036.8 774.0,1035.2 776.0,1033.6 778.0,1032.0 780.0,1030.4 782.0,1028.7 784.0,1027.1 786.0,1025.4 788.0,1023.7 790.0,1022.0 792.0,1020.3 794.0,1018.5 796.0,1016.7 798.0,1015.0 800.0,1013.2 802.0,1011.3 804.0,1009.5 806.0,1007.7 808.0,1005.8 810.0,1003.9 812.0,1002.1 814.0,1000.2 816.0,998.3 818.0,996.4 820.0,994.5 822.0,992.6 824.0,990.7 826.0,988.8 828.0,986.9 830.0,985.0 832.0,983.1 834.0,981.3 836.0,979.4 838.0,977.5 840.0,975.6 842.0,973.8 844.0,971.9 846.0,970.1 848.0,968.3 850.0,966.4 852.0,964.6 854.0,962.8 856.0,960.9 858.0,959.1 860.0,957.3 862.0,955.5 864.0,953.6 866.0,951.8 868.0,949.9 870.0,948.1 872.0,946.2 874.0,944.3 876.0,942.4 878.0,940.5 880.0,938.6 882.0,936.6 884.0,934.6 886.0,932.7 888.0,930.7 890.0,928.6 892.0,926.6 894.0,924.5 896.0,922.4 898.0,920.3 900.0,918.1 902.0,915.9 904.0,913.7 906.0,911.5 908.0,909.2 910.0,907.0 912.0,904.7 914.0,902.5 916.0,900.2 918.0,898.0 920.0,895.7 922.0,893.5 924.0,891.4 926.0,889.2 928.0,887.1 930.0,885.0 932.0,883.0 934.0,881.1 936.0,879.2 938.0,877.3 940.0,875.6 942.0,873.9 944.0,872.2 946.0,870.7 948.0,869.3 950.0,867.9 952.0,866.7 954.0,865.5 956.0,864.4 958.0,863.4 960.0,862.5 962.0,861.7 964.0,860.9 966.0,860.2 968.0,859.6 970.0,859.0 972.0,858.5 974.0,858.1 978.0,851.2 980.0,850.8 982.0,850.3 984.0,849.6 986.0,848.8 988.0,847.9 990.0,846.8 992.0,845.7 994.0,844.4 996.0,843.0 998.0,841.5 1000.0,839.9 1002.0,838.3 1004.0,836.5 1006.0,834.6 1008.0,832.7 1010.0,830.7 1012.0,828.6 1014.0,826.5 1016.0,824.3 1018.0,822.0 1020.0,819.7 1022.0,817.4 1024.0,815.0 1026.0,812.5 1028.0,810.1 1030.0,807.6 1032.0,805.1 1034.0,802.5 1036.0,800.0 1038.0,797.4 1040.0,794.9 1042.0,792.3 1044.0,789.8 1046.0,787.2 1048.0,784.7 1050.0,782.2 1052.0,779.7 1054.0,777.3 1056.0,774.8 1058.0,772.5 1060.0,770.1 1062.0,767.8 1064.0,765.6 1066.0,763.4 1068.0,761.3 1070.0,759.2 1072.0,757.3 1074.0,755.4 1076.0,753.5 1078.0,751.8 1080.0,750.1 1082.0,748.6 1084.0,747.1 1086.0,745.8 1088.0,744.5 1090.0,743.4 1092.0,742.4 1094.0,741.5 1096.0,740.7 1098.0,740.0 1100.0,739.4 1102.0,738.9 1104.0,738.6 1106.0,738.3 1108.0,738.1 1110.0,738.1 1112.0,738.2 1114.0,738.3 1116.0,738.6 1118.0,738.9 1120.0,739.4 1122.0,739.9 1124.0,740.6 1126.0,741.3 1128.0,742.2 1130.0,743.1 1132.0,744.1 1134.0,745.3 1136.0,746.5 1138.0,747.8 1140.0,749.2 1142.0,750.7 1144.0,752.2 1146.0,753.9 1148.0,755.6 1150.0,757.3 1152.0,759.2 1154.0,761.1 1156.0,763.1 1158.0,765.1 1160.0,767.2 1162.0,769.3 1164.0,771.5 1166.0,773.7 1168.0,775.9 1170.0,778.2 1172.0,780.6 1174.0,782.9 1176.0,785.3 1178.0,787.7 1180.0,790.1 1182.0,792.5 1184.0,795.0 1186.0,797.4 1188.0,799.9 1190.0,802.3 1192.0,804.8 1194.0,807.2 1196.0,809.7 1198.0,812.1 1200.0,814.5 1202.0,816.9 1204.0,819.3 1206.0,821.7 1208.0,824.1 1210.0,826.5 1212.0,828.9 1214.0,831.4 1216.0,833.8 1218.0,836.2 1220.0,838.7 1222.0,841.1 1224.0,843.6 1226.0,846.1 1228.0,848.6 1230.0,851.1 1232.0,853.7 1234.0,856.3 1236.0,858.9 1238.0,861.6 1240.0,864.2 1242.0,866.9 1244.0,869.5 1246.0,872.2 1248.0,874.9 1250.0,877.6 1252.0,880.3 1254.0,883.0 1256.0,885.7 1258.0,888.3 1260.0,891.0 1262.0,893.6 1264.0,896.3 1266.0,898.9 1268.0,901.5 1270.0,904.1 1272.0,906.6 1274.0,909.2 1276.0,911.7 1278.0,914.2 1280.0,916.8 1282.0,919.3 1284.0,921.8 1286.0,924.4 1288.0,926.9 1290.0,929.4 1292.0,932.0 1294.0,934.5 1296.0,937.1 1298.0,939.7 1300.0,942.2 1302.0,944.8 1304.0,947.3 1306.0,949.8 1308.0,952.3 1310.0,954.8 1312.0,957.3 1314.0,959.6 1316.0,962.0 1318.0,964.3 1320.0,966.6 1322.0,968.8 1324.0,971.0 1326.0,973.1 1328.0,975.2 1330.0,977.2 1332.0,979.3 1334.0,981.2 1336.0,983.2 1338.0,985.1 1340.0,987.0 1342.0,988.8 1344.0,990.6 1346.0,992.4 1348.0,994.2 1350.0,995.9 1352.0,997.6 1354.0,999.3 1356.0,1000.9 1358.0,1002.5 1360.0,1004.1 1362.0,1005.7 1364.0,1007.3 1366.0,1008.8 1368.0,1010.3 1370.0,1011.8 1372.0,1013.3 1374.0,1014.8 1376.0,1016.2 1378.0,1017.7 1380.0,1019.1 1382.0,1020.5 1384.0,1021.8 1386.0,1023.2 1388.0,1024.5 1390.0,1025.9 1392.0,1027.2 1394.0,1028.5 1396.0,1029.7 1398.0,1031.0 1400.0,1032.2 1402.0,1033.5 1404.0,1034.7 1406.0,1035.9 1408.0,1037.1 1410.0,1038.2 1412.0,1039.4 1414.0,1040.5 1416.0,1041.6 1418.0,1042.8 1420.0,1043.9 1422.0,1044.9 1424.0,1046.0 1426.0,1047.1 1428.0,1048.1 1430.0,1049.1 1432.0,1050.1 1434.0,1051.1 1436.0,1052.1 1438.0,1053.1 1440.0,1054.1 1442.0,1055.0 1444.0,1056.0 1446.0,1056.9 1448.0,1057.8 1450.0,1058.7 1452.0,1059.6 1454.0,1060.5 1456.0,1061.4 1458.0,1062.2 1460.0,1063.1 1462.0,1063.9 1464.0,1064.8 1466.0,1065.6 1468.0,1066.4 1470.0,1067.2 1472.0,1068.0 1474.0,1068.8 1476.0,1069.6 1478.0,1070.3 1480.0,1071.1 1482.0,1071.9 1484.0,1072.6 1486.0,1073.3 1488.0,1074.1 1490.0,1074.8 1492.0,1075.5 1494.0,1076.2 1496.0,1076.9 1498.0,1077.6 1500.0,1078.3 1502.0,1079.0 1504.0,1079.6 1506.0,1080.3 1508.0,1080.9 1510.0,1081.6 1512.0,1082.3 1514.0,1082.9 1516.0,1083.5 1518.0,1084.2 1520.0,1084.8 1522.0,1085.4 1524.0,1086.0 1526.0,1086.6 1528.0,1087.3 1530.0,1087.9 1532.0,1088.5 1534.0,1089.1 1536.0,1089.6 1538.0,1090.2 1540.0,1090.8 1542.0,1091.4 1544.0,1092.0 1546.0,1092.6 1548.0,1093.1 1550.0,1093.7 1552.0,1094.3 1554.0,1094.8 1556.0,1095.4 1558.0,1095.9 1560.0,1096.5 1562.0,1097.0 1564.0,1097.6 1566.0,1098.1 1568.0,1098.6 1570.0,1099.2 1572.0,1099.7 1574.0,1100.2 1576.0,1100.7 1578.0,1101.2 1580.0,1101.8 1582.0,1102.3 1584.0,1102.8 1586.0,1103.3 1588.0,1103.8 1590.0,1104.3 1592.0,1104.8 1594.0,1105.2 1596.0,1105.7 1598.0,1106.2 1600.0,1106.7 1602.0,1107.2 1604.0,1107.6 1606.0,1108.1 1608.0,1108.5 1610.0,1109.0 1612.0,1109.5 1614.0,1109.9 1616.0,1110.4 1618.0,1110.8 1620.0,1111.2 1622.0,1111.7 1624.0,1112.1 1626.0,1112.5 1628.0,1113.0 1630.0,1113.4 1632.0,1113.8 1634.0,1114.2 1636.0,1114.6 1638.0,1115.0 1640.0,1115.5 1642.0,1115.9 1644.0,1116.3 1646.0,1116.7 1648.0,1117.0 1650.0,1117.4 1652.0,1117.8 1654.0,1118.2 1656.0,1118.6 1658.0,1119.0 1660.0,1119.3 1662.0,1119.7 1664.0,1120.1 1666.0,1120.4 1668.0,1120.8 1670.0,1121.1 1672.0,1121.5 1674.0,1121.8 1676.0,1122.2 1678.0,1122.5 1680.0,1122.9 1682.0,1123.2 1684.0,1123.5 1686.0,1123.9 1688.0,1124.2 1690.0,1124.5 1692.0,1124.8 1694.0,1125.1 1696.0,1125.5 1698.0,1125.8 1700.0,1126.1 1702.0,1126.4 1704.0,1126.7 1706.0,1127.0 1708.0,1127.3 1710.0,1127.5 1712.0,1127.8 1714.0,1128.1 1716.0,1128.4 1718.0,1128.7 1720.0,1129.0 1722.0,1129.2 1724.0,1129.5 1726.0,1129.8 1728.0,1130.0 1730.0,1130.3 1732.0,1130.5 1734.0,1130.8 1736.0,1131.0 1738.0,1131.3 1740.0,1131.5 1742.0,1131.8 1744.0,1132.0 1746.0,1132.2 1748.0,1132.5 1750.0,1132.7 1752.0,1132.9 1754.0,1133.1 1756.0,1133.4 1758.0,1133.6 1760.0,1133.8"/>
<polyline stroke="#ff0000" points="250.0,1170.3 252.0,1170.1 254.0,1169.8 256.0,1169.6 258.0,1169.4 260.0,1169.2 262.0,1169.0 264.0,1168.7 266.0,1168.5 268.0,1168.3 270.0,1168.1 272.0,1167.9 274.0,1167.7 276.0,1167.5 278.0,1167.3 280.0,1167.1 282.0,1166.9 284.0,1166.8 286.0,1166.6 288.0,1166.4 290.0,1166.2 292.0,1166.0 294.0,1165.9 296.0,1165.7 298.0,1165.5 300.0,1165.3 302.0,1165.2 304.0,1165.0 306.0,1164.9 308.0,1164.7 310.0,1164.5 312.0,1164.4 314.0,1164.2 316.0,1164.1 318.0,1163.9 320.0,1163.8 322.0,1163.6 324.0,1163.5 326.0,1163.3 328.0,1163.2 330.0,1163.1 332.0,1162.9 334.0,1162.8 336.0,1162.6 338.0,1162.5 340.0,1162.4 342.0,1162.2 344.0,1162.1 346.0,1162.0 348.0,1161.8 350.0,1161.7 352.0,1161.6 354.0,1161.4 356.0,1161.3 358.0,1161.2 360.0,1161.1 362.0,1160.9 364.0,1160.8 366.0,1160.7 368.0,1160.6 370.0,1160.4 372.0,1160.3 374.0,1160.2 376.0,1160.1 378.0,1159.9 380.0,1159.8 382.0,1159.7 384.0,1159.6 386.0,1159.4 388.0,1159.3 390.0,1159.2 392.0,1159.1 394.0,1158.9 396.0,1158.8 398.0,1158.7 400.0,1158.6 402.0,1158.4 404.0,1158.3 406.0,1158.2 408.0,1158.1 410.0,1157.9 412.0,1157.8 414.0,1157.7 416.0,1157.5 418.0,1157.4 420.0,1157.3 422.0,1157.1 424.0,1157.0 426.0,1156.9 428.0,1156.7 430.0,1156.6 432.0,1156.4 434.0,1156.3 436.0,1156.2 438.0,1156.0 440.0,1155.9 442.0,1155.7 444.0,1155.6 446.0,1155.4 448.0,1155.3 450.0,1155.1 452.0,1155.0 454.0,1154.8 456.0,1154.7 458.0,1154.5 460.0,1154.3 462.0,1154.2 464.0,1154.0 466.0,1153.8 468.0,1153.7 470.0,1153.5 472.0,1153.3 474.0,1153.1 476.0,1153.0 478.0,1152.8 480.0,1152.6 482.0,1152.4 484.0,1152.2 486.0,1152.0 488.0,1151.8 490.0,1151.6 492.0,1151.4 494.0,1151.2 496.0,1151.0 498.0,1150.8 500.0,1150.6 502.0,1150.4 504.0,1150.1 506.0,1149.9 508.0,1149.7 510.0,1149.5 512.0,1149.2 514.0,1149.0 516.0,1148.8 518.0,1148.5 520.0,1148.3 522.0,1148.0 524.0,1147.8 526.0,1147.5 528.0,1147.2 530.0,1147.0 532.0,1146.7 534.0,1146.4 536.0,1146.2 538.0,1145.9 540.0,1145.6 542.0,1145.3 544.0,1145.0 546.0,1144.7 548.0,1144.4 550.0,1144.1 552.0,1143.8 554.0,1143.5 556.0,1143.2 558.0,1142.8 560.0,1142.5 562.0,1142.2 564.0,1141.8 566.0,1141.5 568.0,1141.1 570.0,1140.8 572.0,1140.4 574.0,1140.1 576.0,1139.7 578.0,1139.3 580.0,1139.0 582.0,1138.6 584.0,1138.2 586.0,1137.8 588.0,1137.4 590.0,1137.0 592.0,1136.6 594.0,1136.2 596.0,1135.8 598.0,1135.3 600.0,1134.9 602.0,1134.5 604.0,1134.0 606.0,1133.6 608.0,1133.1 610.0,1132.7 612.0,1132.2 614.0,1131.7 616.0,1131.2 618.0,1130.8 620.0,1130.3 622.0,1129.8 624.0,1129.3 626.0,1128.8 628.0,1128.2 630.0,1127.7 632.0,1127.2 634.0,1126.7 636.0,1126.1 638.0,1125.6 640.0,1125.0 642.0,1124.5 644.0,1123.9 646.0,1123.3 648.0,1122.7 650.0,1122.1 652.0,1121.6 654.0,1120.9 656.0,1120.3 658.0,1119.7 660.0,1119.1 662.0,1118.5 664.0,1117.8 666.0,1117.2 668.0,1116.5 670.0,1115.9 672.0,1115.2 674.0,1114.5 676.0,1113.8 678.0,1113.2 680.0,1112.5 682.0,1111.7 684.0,1111.0 686.0,1110.3 688.0,1109.6 690.0,1108.8 692.0,1108.1 694.0,1107.3 696.0,1106.6 698.0,1105.8 700.0,1105.0 702.0,1104.3 704.0,1103.5 706.0,1102.7 708.0,1101.8 710.0,1101.0 712.0,1100.2 714.0,1099.4 716.0,1098.5 718.0,1097.7 720.0,1096.8 722.0,1095.9 724.0,1095.0 726.0,1094.2 728.0,1093.3 730.0,1092.3 732.0,1091.4 734.0,1090.5 736.0,1089.6 738.0,1088.6 740.0,1087.7 742.0,1086.7 744.0,1085.7 746.0,1084.8 748.0,1083.8 750.0,1082.8 752.0,1081.8 754.0,1080.7 756.0,1079.7 758.0,1078.7 760.0,1077.6 762.0,1076.6 764.0,1075.5 766.0,1074.4 768.0,1073.3 770.0,1072.2 772.0,1071.1 774.0,1070.0 776.0,1068.9 778.0,1067.7 780.0,1066.6 782.0,1065.4 784.0,1064.3 786.0,1063.1 788.0,1061.9 790.0,1060.7 792.0,1059.5 794.0,1058.2 796.0,1057.0 798.0,1055.8 800.0,1054.5 802.0,1053.2 804.0,1052.0 806.0,1050.7 808.0,1049.4 810.0,1048.1 812.0,1046.8 814.0,1045.4 816.0,1044.1 818.0,1042.7 820.0,1041.4 822.0,1040.0 824.0,1038.6 826.0,1037.2 828.0,1035.8 830.0,1034.4 832.0,1032.9 834.0,1031.5 836.0,1030.0 838.0,1028.5 840.0,1027.1 842.0,1025.6 844.0,1024.1 846.0,1022.5 848.0,1021.0 850.0,1019.5 852.0,1017.9 854.0,1016.3 856.0,1014.8 858.0,1013.2 860.0,1011.6 862.0,1010.0 864.0,1008.3 866.0,1006.7 868.0,1005.0 870.0,1003.4 872.0,1001.7 874.0,1000.0 876.0,998.3 878.0,996.6 880.0,994.9 882.0,993.2 884.0,991.5 886.0,989.7 888.0,988.0 890.0,986.3 892.0,984.6 894.0,982.9 896.0,981.2 898.0,979.5 900.0,977.9 902.0,976.2 904.0,974.6 906.0,973.0 908.0,971.4 910.0,969.8 912.0,968.2 914.0,966.7 916.0,965.2 918.0,963.7 920.0,962.3 922.0,960.9 924.0,959.5 926.0,958.2 928.0,956.9 930.0,955.6 932.0,954.4 934.0,953.2 936.0,952.1 938.0,951.0 940.0,950.0 942.0,949.0 944.0,948.0 946.0,947.1 948.0,946.2 950.0,945.3 952.0,944.5 954.0,943.7 956.0,942.9 958.0,942.2 960.0,941.5 962.0,940.8 964.0,940.1 966.0,939.5 968.0,938.8 970.0,938.2 972.0,937.6 974.0,937.0 974.5,936.8 980.1,932.1 982.1,931.5 984.1,930.8 986.1,930.0 988.1,929.2 990.1,928.2 992.1,927.2 994.1,926.2 996.1,925.0 998.1,923.9 1000.1,922.6 1002.1,921.3 1004.1,920.0 1006.1,918.6 1008.1,917.2 1010.1,915.8 1012.1,914.3 1014.1,912.8 1016.1,911.2 1018.1,909.7 1020.1,908.1 1022.1,906.6 1024.1,905.0 1026.1,903.4 1028.1,901.9 1030.1,900.3 1032.1,898.7 1034.1,897.2 1036.1,895.7 1038.1,894.2 1040.1,892.7 1042.1,891.3 1044.1,889.9 1046.1,888.5 1048.1,887.2 1050.1,885.9 1052.1,884.6 1054.1,883.5 1056.1,882.3 1058.1,881.3 1060.1,880.3 1062.1,879.4 1064.1,878.5 1066.1,877.7 1068.1,877.0 1070.1,876.4 1072.1,875.8 1074.1,875.3 1076.1,874.8 1078.1,874.4 1080.1,874.1 1082.1,873.8 1084.1,873.6 1086.1,873.5 1088.1,873.4 1090.1,873.4 1092.1,873.4 1094.1,873.5 1096.1,873.6 1098.1,873.8 1100.1,874.1 1102.1,874.4 1104.1,874.7 1106.1,875.1 1108.1,875.6 1110.1,876.1 1112.1,876.6 1114.1,877.2 1116.1,877.8 1118.1,878.5 1120.1,879.3 1122.1,880.0 1124.1,880.8 1126.1,881.7 1128.1,882.6 1130.1,883.5 1132.1,884.5 1134.1,885.5 1136.1,886.6 1138.1,887.7 1140.1,888.8 1142.1,890.0 1144.1,891.2 1146.1,892.4 1148.1,893.7 1150.1,895.0 1152.1,896.3 1154.1,897.6 1156.1,899.0 1158.1,900.4 1160.1,901.9 1162.1,903.3 1164.1,904.8 1166.1,906.3 1168.1,907.9 1170.1,909.4 1172.1,911.0 1174.1,912.6 1176.1,914.2 1178.1,915.9 1180.1,917.5 1182.1,919.2 1184.1,920.9 1186.1,922.6 1188.1,924.3 1190.1,926.1 1192.1,927.8 1194.1,929.6 1196.1,931.4 1198.1,933.1 1200.1,934.9 1202.1,936.8 1204.1,938.6 1206.1,940.4 1208.1,942.3 1210.1,944.1 1212.1,946.0 1214.1,947.8 1216.1,949.7 1218.1,951.6 1220.1,953.5 1222.1,955.4 1224.1,957.3 1226.1,959.2 1228.1,961.1 1230.1,963.0 1232.1,964.9 1234.1,966.8 1236.1,968.7 1238.1,970.6 1240.1,972.5 1242.1,974.4 1244.1,976.3 1246.1,978.2 1248.1,980.1 1250.1,982.0 1252.1,983.9 1254.1,985.8 1256.1,987.7 1258.1,989.6 1260.1,991.5 1262.1,993.3 1264.1,995.2 1266.1,997.1 1268.1,998.9 1270.1,1000.7 1272.1,1002.6 1274.1,1004.4 1276.1,1006.2 1278.1,1008.0 1280.1,1009.8 1282.1,1011.5 1284.1,1013.3 1286.1,1015.0 1288.1,1016.7 1290.1,1018.5 1292.1,1020.2 1294.1,1021.8 1296.1,1023.5 1298.1,1025.1 1300.1,1026.8 1302.1,1028.4 1304.1,1030.0 1306.1,1031.5 1308.1,1033.1 1310.1,1034.6 1312.1,1036.1 1314.1,1037.6 1316.1,1039.1 1318.1,1040.5 1320.1,1041.9 1322.1,1043.3 1324.1,1044.7 1326.1,1046.1 1328.1,1047.4 1330.1,1048.7 1332.1,1050.0 1334.1,1051.3 1336.1,1052.6 1338.1,1053.8 1340.1,1055.1 1342.1,1056.3 1344.1,1057.5 1346.1,1058.7 1348.1,1059.8 1350.1,1061.0 1352.1,1062.1 1354.1,1063.2 1356.1,1064.3 1358.1,1065.4 1360.1,1066.4 1362.1,1067.5 1364.1,1068.5 1366.1,1069.5 1368.1,1070.5 1370.1,1071.5 1372.1,1072.5 1374.1,1073.4 1376.1,1074.4 1378.1,1075.3 1380.1,1076.2 1382.1,1077.1 1384.1,1078.0 1386.1,1078.9 1388.1,1079.8 1390.1,1080.6 1392.1,1081.5 1394.1,1082.3 1396.1,1083.1 1398.1,1084.0 1400.1,1084.8 1402.1,1085.5 1404.1,1086.3 1406.1,1087.1 1408.1,1087.9 1410.1,1088.6 1412.1,1089.3 1414.1,1090.1 1416.1,1090.8 1418.1,1091.5 1420.1,1092.2 1422.1,1092.9 1424.1,1093.6 1426.1,1094.3 1428.1,1095.0 1430.1,1095.6 1432.1,1096.3 1434.1,1097.0 1436.1,1097.6 1438.1,1098.3 1440.1,1098.9 1442.1,1099.5 1444.1,1100.2 1446.1,1100.8 1448.1,1101.4 1450.1,1102.0 1452.1,1102.6 1454.1,1103.2 1456.1,1103.8 1458.1,1104.4 1460.1,1105.0 1462.1,1105.6 1464.1,1106.2 1466.1,1106.8 1468.1,1107.3 1470.1,1107.9 1472.1,1108.5 1474.1,1109.0 1476.1,1109.6 1478.1,1110.1 1480.1,1110.7 1482.1,1111.2 1484.1,1111.8 1486.1,1112.3 1488.1,1112.8 1490.1,1113.4 1492.1,1113.9 1494.1,1114.4 1496.1,1114.9 1498.1,1115.4 1500.1,1115.9 1502.1,1116.4 1504.1,1116.9 1506.1,1117.4 1508.1,1117.9 1510.1,1118.4 1512.1,1118.9 1514.1,1119.4 1516.1,1119.9 1518.1,1120.3 1520.1,1120.8 1522.1,1121.3 1524.1,1121.7 1526.1,1122.2 1528.1,1122.6 1530.1,1123.1 1532.1,1123.5 1534.1,1123.9 1536.1,1124.4 1538.1,1124.8 1540.1,1125.2 1542.1,1125.7 1544.1,1126.1 1546.1,1126.5 1548.1,1126.9 1550.1,1127.3 1552.1,1127.7 1554.1,1128.1 1556.1,1128.5 1558.1,1128.9 1560.1,1129.3 1562.1,1129.7 1564.1,1130.0 1566.1,1130.4 1568.1,1130.8 1570.1,1131.2 1572.1,1131.5 1574.1,1131.9 1576.1,1132.2 1578.1,1132.6 1580.1,1132.9 1582.1,1133.3 1584.1,1133.6 1586.1,1134.0 1588.1,1134.3 1590.1,1134.6 1592.1,1134.9 1594.1,1135.3 1596.1,1135.6 1598.1,1135.9 1600.1,1136.2 1602.1,1136.5 1604.1,1136.8 1606.1,1137.1 1608.1,1137.4 1610.1,1137.7 1612.1,1138.0 1614.1,1138.3 1616.1,1138.5 1618.1,1138.8 1620.1,1139.1 1622.1,1139.4 1624.1,1139.6 1626.1,1139.9 1628.1,1140.1 1630.1,1140.4 1632.1,1140.6 1634.1,1140.9 1636.1,1141.1 1638.1,1141.4 1640.1,1141.6 1642.1,1141.8 1644.1,1142.1 1646.1,1142.3 1648.1,1142.5 1650.1,1142.7 1652.1,1142.9 1654.1,1143.2 1656.1,1143.4 1658.1,1143.6 1660.1,1143.8 1662.1,1144.0 1664.1,1144.2 1666.1,1144.3 1668.1,1144.5 1670.1,1144.7 1672.1,1144.9 1674.1,1145.1 1676.1,1145.2 1678.1,1145.4 1680.1,1145.6 1682.1,1145.7 1684.1,1145.9 1686.1,1146.0 1688.1,1146.2 1690.1,1146.3 1692.1,1146.5 1694.1,1146.6 1696.1,1146.8 1698.1,1146.9 1700.1,1147.0 1702.1,1147.1 1704.1,1147.3 1706.1,1147.4 1708.1,1147.5 1710.1,1147.6 1712.1,1147.7 1714.1,1147.8 1716.1,1147.9 1718.1,1148.0 1720.1,1148.1 1722.1,1148.2 1724.1,1148.3 1726.1,1148.4 1728.1,1148.5 1730.1,1148.6 1732.1,1148.6 1734.1,1148.7 1736.1,1148.8 1738.1,1148.8 1740.1,1148.9 1742.1,1149.0 1744.1,1149.0 1746.1,1149.1 1748.1,1149.1 1750.1,1149.2 1752.1,1149.2 1754.1,1149.3 1756.1,1149.3 1758.1,1149.3 1760.0,1149.3"/>
<polyline stroke="#0000ff" stroke-dasharray="64 37.5" points="250.0,1150.3 252.0,1150.2 254.0,1150.0 256.0,1149.8 258.0,1149.6 260.0,1149.4 262.0,1149.3 264.0,1149.1 266.0,1148.9 268.0,1148.7 270.0,1148.6 272.0,1148.4 274.0,1148.2 276.0,1148.0 278.0,1147.8 280.0,1147.7 282.0,1147.5 284.0,1147.3 286.0,1147.1 288.0,1147.0 290.0,1146.8 292.0,1146.6 294.0,1146.4 296.0,1146.2 298.0,1146.1 300.0,1145.9 302.0,1145.7 304.0,1145.5 306.0,1145.3 308.0,1145.2 310.0,1145.0 312.0,1144.8 314.0,1144.6 316.0,1144.4 318.0,1144.2 320.0,1144.0 322.0,1143.8 324.0,1143.7 326.0,1143.5 328.0,1143.3 330.0,1143.1 332.0,1142.9 334.0,1142.7 336.0,1142.5 338.0,1142.3 340.0,1142.1 342.0,1141.9 344.0,1141.7 346.0,1141.5 348.0,1141.2 350.0,1141.0 352.0,1140.8 354.0,1140.6 356.0,1140.4 358.0,1140.2 360.0,1139.9 362.0,1139.7 364.0,1139.5 366.0,1139.3 368.0,1139.0 370.0,1138.8 372.0,1138.6 374.0,1138.3 376.0,1138.1 378.0,1137.8 380.0,1137.6 382.0,1137.3 384.0,1137.1 386.0,1136.8 388.0,1136.6 390.0,1136.3 392.0,1136.1 394.0,1135.8 396.0,1135.5 398.0,1135.2 400.0,1135.0 402.0,1134.7 404.0,1134.4 406.0,1134.1 408.0,1133.8 410.0,1133.5 412.0,1133.2 414.0,1132.9 416.0,1132.6 418.0,1132.3 420.0,1132.0 422.0,1131.7 424.0,1131.4 426.0,1131.1 428.0,1130.7 430.0,1130.4 432.0,1130.1 434.0,1129.7 436.0,1129.4 438.0,1129.1 440.0,1128.7 442.0,1128.3 444.0,1128.0 446.0,1127.6 448.0,1127.3 450.0,1126.9 452.0,1126.5 454.0,1126.1 456.0,1125.7 458.0,1125.3 460.0,1124.9 462.0,1124.5 464.0,1124.1 466.0,1123.7 468.0,1123.3 470.0,1122.9 472.0,1122.5 474.0,1122.0 476.0,1121.6 478.0,1121.2 480.0,1120.7 482.0,1120.3 484.0,1119.8 486.0,1119.3 488.0,1118.9 490.0,1118.4 492.0,1117.9 494.0,1117.4 496.0,1116.9 498.0,1116.4 500.0,1115.9 502.0,1115.4 504.0,1114.9 506.0,1114.4 508.0,1113.9 510.0,1113.3 512.0,1112.8 514.0,1112.3 516.0,1111.7 518.0,1111.1 520.0,1110.6 522.0,1110.0 524.0,1109.4 526.0,1108.9 528.0,1108.3 530.0,1107.7 532.0,1107.1 534.0,1106.5 536.0,1105.8 538.0,1105.2 540.0,1104.6 542.0,1103.9 544.0,1103.3 546.0,1102.7 548.0,1102.0 550.0,1101.3 552.0,1100.7 554.0,1100.0 556.0,1099.3 558.0,1098.6 560.0,1097.9 562.0,1097.2 564.0,1096.5 566.0,1095.7 568.0,1095.0 570.0,1094.3 572.0,1093.5 574.0,1092.8 576.0,1092.0 578.0,1091.2 580.0,1090.5 582.0,1089.7 584.0,1088.9 586.0,1088.1 588.0,1087.3 590.0,1086.4 592.0,1085.6 594.0,1084.8 596.0,1083.9 598.0,1083.1 600.0,1082.2 602.0,1081.4 604.0,1080.5 606.0,1079.6 608.0,1078.7 610.0,1077.8 612.0,1076.9 614.0,1076.0 616.0,1075.0 618.0,1074.1 620.0,1073.1 622.0,1072.2 624.0,1071.2 626.0,1070.2 628.0,1069.3 630.0,1068.3 632.0,1067.3 634.0,1066.3 636.0,1065.2 638.0,1064.2 640.0,1063.2 642.0,1062.1 644.0,1061.0 646.0,1059.9 648.0,1058.9 650.0,1057.7 652.0,1056.6 654.0,1055.5 656.0,1054.3 658.0,1053.2 660.0,1052.0 662.0,1050.8 664.0,1049.6 666.0,1048.3 668.0,1047.1 670.0,1045.8 672.0,1044.5 674.0,1043.2 676.0,1041.9 678.0,1040.5 680.0,1039.2 682.0,1037.8 684.0,1036.3 686.0,1034.9 688.0,1033.5 690.0,1032.0 692.0,1030.5 694.0,1028.9 696.0,1027.4 698.0,1025.8 700.0,1024.2 702.0,1022.6 704.0,1020.9 706.0,1019.2 708.0,1017.5 710.0,1015.8 712.0,1014.0 714.0,1012.2 716.0,1010.4 718.0,1008.5 720.0,1006.7 722.0,1004.8 724.0,1002.9 726.0,1000.9 728.0,999.0 730.0,997.0 732.0,995.0 734.0,992.9 736.0,990.9 738.0,988.8 740.0,986.7 742.0,984.6 744.0,982.4 746.0,980.2 748.0,978.1 750.0,975.8 752.0,973.6 754.0,971.3 756.0,969.0 758.0,966.7 760.0,964.4 762.0,962.0 764.0,959.6 766.0,957.2 768.0,954.8 770.0,952.4 772.0,949.9 774.0,947.4 776.0,944.9 778.0,942.3 780.0,939.7 782.0,937.1 784.0,934.5 786.0,931.9 788.0,929.2 790.0,926.5 792.0,923.8 794.0,921.1 796.0,918.3 798.0,915.6 800.0,912.8 802.0,909.9 804.0,907.1 806.0,904.2 808.0,901.3 810.0,898.4 812.0,895.5 814.0,892.6 816.0,889.6 818.0,886.6 820.0,883.7 822.0,880.6 824.0,877.6 826.0,874.6 828.0,871.5 830.0,868.4 832.0,865.4 834.0,862.3 836.0,859.1 838.0,856.0 840.0,852.9 842.0,849.7 844.0,846.5 846.0,843.4 848.0,840.2 850.0,837.0 852.0,833.8 854.0,830.5 856.0,827.3 858.0,824.1 860.0,820.8 862.0,817.5 864.0,814.3 866.0,811.0 868.0,807.7 870.0,804.4 872.0,801.1 874.0,797.8 876.0,794.5 878.0,791.2 880.0,787.9 882.0,784.5 884.0,781.2 886.0,777.9 888.0,774.6 890.0,771.2 892.0,767.9 894.0,764.5 896.0,761.2 898.0,757.9 900.0,754.5 902.0,751.2 904.0,747.9 906.0,744.6 908.0,741.4 910.0,738.1 912.0,734.9 914.0,731.7 916.0,728.5 918.0,725.4 920.0,722.3 922.0,719.2 924.0,716.1 926.0,713.2 928.0,710.2 930.0,707.3 932.0,704.4 934.0,701.6 936.0,698.8 938.0,696.1 940.0,693.5 942.0,690.9 944.0,688.4 946.0,685.9 948.0,683.5 950.0,681.2 952.0,679.0 954.0,676.8 956.0,674.7 958.0,672.7 960.0,670.7 962.0,668.9 964.0,667.1 966.0,665.5 968.0,663.9 970.0,662.5 972.0,661.1 974.0,659.8 976.0,658.7 980.0,647.9 982.0,646.5 984.0,645.0 986.0,643.4 988.0,641.7 990.0,639.8 992.0,637.9 994.0,635.8 996.0,633.6 998.0,631.3 1000.0,628.9 1002.0,626.3 1004.0,623.6 1006.0,620.8 1008.0,617.9 1010.0,614.9 1012.0,611.7 1014.0,608.4 1016.0,605.0 1018.0,601.4 1020.0,597.8 1022.0,594.1 1024.0,590.3 1026.0,586.4 1028.0,582.5 1030.0,578.5 1032.0,574.4 1034.0,570.3 1036.0,566.1 1038.0,561.9 1040.0,557.7 1042.0,553.5 1044.0,549.2 1046.0,544.9 1048.0,540.7 1050.0,536.4 1052.0,532.2 1054.0,528.0 1056.0,523.8 1058.0,519.6 1060.0,515.5 1062.0,511.4 1064.0,507.4 1066.0,503.5 1068.0,499.7 1070.0,495.9 1072.0,492.2 1074.0,488.6 1076.0,485.1 1078.0,481.7 1080.0,478.4 1082.0,475.3 1084.0,472.2 1086.0,469.3 1088.0,466.6 1090.0,464.0 1092.0,461.6 1094.0,459.3 1096.0,457.2 1098.0,455.3 1100.0,453.5 1102.0,452.0 1104.0,450.5 1106.0,449.3 1108.0,448.2 1110.0,447.3 1112.0,446.5 1114.0,445.9 1116.0,445.4 1118.0,445.1 1120.0,445.0 1122.0,445.0 1124.0,445.1 1126.0,445.4 1128.0,445.9 1130.0,446.5 1132.0,447.2 1134.0,448.1 1136.0,449.1 1138.0,450.3 1140.0,451.5 1142.0,453.0 1144.0,454.5 1146.0,456.2 1148.0,458.0 1150.0,460.0 1152.0,462.1 1154.0,464.3 1156.0,466.6 1158.0,469.0 1160.0,471.5 1162.0,474.2 1164.0,476.9 1166.0,479.8 1168.0,482.7 1170.0,485.7 1172.0,488.9 1174.0,492.1 1176.0,495.4 1178.0,498.8 1180.0,502.3 1182.0,505.8 1184.0,509.4 1186.0,513.1 1188.0,516.9 1190.0,520.7 1192.0,524.6 1194.0,528.6 1196.0,532.6 1198.0,536.6 1200.0,540.7 1202.0,544.9 1204.0,549.0 1206.0,553.3 1208.0,557.5 1210.0,561.8 1212.0,566.2 1214.0,570.5 1216.0,574.9 1218.0,579.3 1220.0,583.7 1222.0,588.2 1224.0,592.6 1226.0,597.1 1228.0,601.5 1230.0,606.0 1232.0,610.5 1234.0,614.9 1236.0,619.4 1238.0,623.8 1240.0,628.3 1242.0,632.7 1244.0,637.1 1246.0,641.6 1248.0,646.0 1250.0,650.4 1252.0,654.8 1254.0,659.2 1256.0,663.6 1258.0,668.0 1260.0,672.4 1262.0,676.8 1264.0,681.2 1266.0,685.6 1268.0,690.1 1270.0,694.5 1272.0,698.9 1274.0,703.4 1276.0,707.8 1278.0,712.3 1280.0,716.7 1282.0,721.2 1284.0,725.7 1286.0,730.2 1288.0,734.7 1290.0,739.2 1292.0,743.6 1294.0,748.0 1296.0,752.4 1298.0,756.7 1300.0,760.9 1302.0,765.1 1304.0,769.2 1306.0,773.2 1308.0,777.2 1310.0,781.1 1312.0,785.0 1314.0,788.8 1316.0,792.6 1318.0,796.3 1320.0,800.0 1322.0,803.7 1324.0,807.3 1326.0,810.9 1328.0,814.5 1330.0,818.0 1332.0,821.4 1334.0,824.9 1336.0,828.3 1338.0,831.6 1340.0,835.0 1342.0,838.3 1344.0,841.5 1346.0,844.7 1348.0,847.9 1350.0,851.1 1352.0,854.2 1354.0,857.2 1356.0,860.3 1358.0,863.3 1360.0,866.2 1362.0,869.1 1364.0,872.0 1366.0,874.9 1368.0,877.7 1370.0,880.5 1372.0,883.2 1374.0,885.9 1376.0,888.6 1378.0,891.2 1380.0,893.8 1382.0,896.3 1384.0,898.8 1386.0,901.3 1388.0,903.7 1390.0,906.2 1392.0,908.5 1394.0,910.8 1396.0,913.1 1398.0,915.4 1400.0,917.6 1402.0,919.8 1404.0,922.0 1406.0,924.1 1408.0,926.2 1410.0,928.3 1412.0,930.4 1414.0,932.4 1416.0,934.4 1418.0,936.4 1420.0,938.3 1422.0,940.3 1424.0,942.2 1426.0,944.1 1428.0,946.0 1430.0,947.8 1432.0,949.7 1434.0,951.5 1436.0,953.3 1438.0,955.1 1440.0,956.9 1442.0,958.7 1444.0,960.5 1446.0,962.2 1448.0,964.0 1450.0,965.7 1452.0,967.5 1454.0,969.2 1456.0,971.0 1458.0,972.7 1460.0,974.4 1462.0,976.1 1464.0,977.8 1466.0,979.5 1468.0,981.2 1470.0,982.8 1472.0,984.5 1474.0,986.2 1476.0,987.8 1478.0,989.4 1480.0,991.1 1482.0,992.7 1484.0,994.3 1486.0,995.8 1488.0,997.4 1490.0,999.0 1492.0,1000.5 1494.0,1002.0 1496.0,1003.5 1498.0,1005.0 1500.0,1006.5 1502.0,1007.9 1504.0,1009.4 1506.0,1010.8 1508.0,1012.2 1510.0,1013.6 1512.0,1015.0 1514.0,1016.3 1516.0,1017.6 1518.0,1019.0 1520.0,1020.2 1522.0,1021.5 1524.0,1022.8 1526.0,1024.0 1528.0,1025.2 1530.0,1026.4 1532.0,1027.5 1534.0,1028.6 1536.0,1029.7 1538.0,1030.8 1540.0,1031.9 1542.0,1032.9 1544.0,1033.9 1546.0,1034.9 1548.0,1035.8 1550.0,1036.8 1552.0,1037.7 1554.0,1038.6 1556.0,1039.5 1558.0,1040.3 1560.0,1041.1 1562.0,1041.9 1564.0,1042.7 1566.0,1043.5 1568.0,1044.3 1570.0,1045.0 1572.0,1045.8 1574.0,1046.5 1576.0,1047.2 1578.0,1047.9 1580.0,1048.5 1582.0,1049.2 1584.0,1049.9 1586.0,1050.5 1588.0,1051.2 1590.0,1051.8 1592.0,1052.4 1594.0,1053.0 1596.0,1053.6 1598.0,1054.3 1600.0,1054.9 1602.0,1055.5 1604.0,1056.1 1606.0,1056.6 1608.0,1057.2 1610.0,1057.8 1612.0,1058.4 1614.0,1059.0 1616.0,1059.6 1618.0,1060.2 1620.0,1060.8 1622.0,1061.4 1624.0,1062.0 1626.0,1062.6 1628.0,1063.2 1630.0,1063.9 1632.0,1064.5 1634.0,1065.1 1636.0,1065.7 1638.0,1066.3 1640.0,1067.0 1642.0,1067.6 1644.0,1068.2 1646.0,1068.9 1648.0,1069.5 1650.0,1070.1 1652.0,1070.7 1654.0,1071.4 1656.0,1072.0 1658.0,1072.6 1660.0,1073.3 1662.0,1073.9 1664.0,1074.5 1666.0,1075.2 1668.0,1075.8 1670.0,1076.4 1672.0,1077.0 1674.0,1077.6 1676.0,1078.3 1678.0,1078.9 1680.0,1079.5 1682.0,1080.1 1684.0,1080.7 1686.0,1081.3 1688.0,1081.9 1690.0,1082.5 1692.0,1083.1 1694.0,1083.7 1696.0,1084.2 1698.0,1084.8 1700.0,1085.4 1702.0,1086.0 1704.0,1086.5 1706.0,1087.1 1708.0,1087.6 1710.0,1088.2 1712.0,1088.7 1714.0,1089.2 1716.0,1089.7 1718.0,1090.3 1720.0,1090.8 1722.0,1091.3 1724.0,1091.8 1726.0,1092.2 1728.0,1092.7 1730.0,1093.2 1732.0,1093.6 1734.0,1094.1 1736.0,1094.5 1738.0,1094.9 1740.0,1095.4 1742.0,1095.8 1744.0,1096.2 1746.0,1096.6 1748.0,1096.9 1750.0,1097.3 1752.0,1097.7 1754.0,1098.0 1756.0,1098.3 1758.0,1098.7 1760.0,1099.0"/>
<polyline stroke="#0000ff" stroke-dasharray="64 37.5" points="250.0,1161.0 252.0,1160.9 254.0,1160.9 256.0,1160.9 258.0,1160.8 260.0,1160.8 262.0,1160.7 264.0,1160.6 266.0,1160.6 268.0,1160.5 270.0,1160.4 272.0,1160.3 274.0,1160.2 276.0,1160.1 278.0,1160.0 280.0,1159.9 282.0,1159.7 284.0,1159.6 286.0,1159.5 288.0,1159.3 290.0,1159.2 292.0,1159.0 294.0,1158.8 296.0,1158.7 298.0,1158.5 300.0,1158.3 302.0,1158.1 304.0,1158.0 306.0,1157.8 308.0,1157.6 310.0,1157.4 312.0,1157.2 314.0,1157.0 316.0,1156.7 318.0,1156.5 320.0,1156.3 322.0,1156.1 324.0,1155.9 326.0,1155.6 328.0,1155.4 330.0,1155.2 332.0,1154.9 334.0,1154.7 336.0,1154.4 338.0,1154.2 340.0,1153.9 342.0,1153.7 344.0,1153.4 346.0,1153.1 348.0,1152.9 350.0,1152.6 352.0,1152.4 354.0,1152.1 356.0,1151.8 358.0,1151.5 360.0,1151.3 362.0,1151.0 364.0,1150.7 366.0,1150.4 368.0,1150.2 370.0,1149.9 372.0,1149.6 374.0,1149.3 376.0,1149.0 378.0,1148.8 380.0,1148.5 382.0,1148.2 384.0,1147.9 386.0,1147.6 388.0,1147.4 390.0,1147.1 392.0,1146.8 394.0,1146.5 396.0,1146.2 398.0,1146.0 400.0,1145.7 402.0,1145.4 404.0,1145.1 406.0,1144.8 408.0,1144.6 410.0,1144.3 412.0,1144.0 414.0,1143.7 416.0,1143.5 418.0,1143.2 420.0,1142.9 422.0,1142.7 424.0,1142.4 426.0,1142.2 428.0,1141.9 430.0,1141.7 432.0,1141.4 434.0,1141.2 436.0,1140.9 438.0,1140.7 440.0,1140.4 442.0,1140.2 444.0,1139.9 446.0,1139.7 448.0,1139.5 450.0,1139.2 452.0,1139.0 454.0,1138.8 456.0,1138.5 458.0,1138.3 460.0,1138.1 462.0,1137.8 464.0,1137.6 466.0,1137.3 468.0,1137.1 470.0,1136.8 472.0,1136.6 474.0,1136.4 476.0,1136.1 478.0,1135.9 480.0,1135.6 482.0,1135.3 484.0,1135.1 486.0,1134.8 488.0,1134.5 490.0,1134.3 492.0,1134.0 494.0,1133.7 496.0,1133.4 498.0,1133.1 500.0,1132.8 502.0,1132.5 504.0,1132.2 506.0,1131.9 508.0,1131.5 510.0,1131.2 512.0,1130.9 514.0,1130.5 516.0,1130.2 518.0,1129.8 520.0,1129.4 522.0,1129.1 524.0,1128.7 526.0,1128.3 528.0,1127.9 530.0,1127.5 532.0,1127.1 534.0,1126.6 536.0,1126.2 538.0,1125.7 540.0,1125.3 542.0,1124.8 544.0,1124.3 546.0,1123.8 548.0,1123.3 550.0,1122.8 552.0,1122.3 554.0,1121.7 556.0,1121.2 558.0,1120.6 560.0,1120.0 562.0,1119.4 564.0,1118.8 566.0,1118.2 568.0,1117.6 570.0,1116.9 572.0,1116.3 574.0,1115.6 576.0,1114.9 578.0,1114.2 580.0,1113.5 582.0,1112.7 584.0,1112.0 586.0,1111.2 588.0,1110.4 590.0,1109.6 592.0,1108.8 594.0,1108.0 596.0,1107.2 598.0,1106.3 600.0,1105.5 602.0,1104.6 604.0,1103.7 606.0,1102.8 608.0,1101.9 610.0,1101.0 612.0,1100.1 614.0,1099.1 616.0,1098.2 618.0,1097.2 620.0,1096.2 622.0,1095.3 624.0,1094.3 626.0,1093.3 628.0,1092.3 630.0,1091.3 632.0,1090.2 634.0,1089.2 636.0,1088.2 638.0,1087.1 640.0,1086.1 642.0,1085.0 644.0,1084.0 646.0,1082.9 648.0,1081.8 650.0,1080.8 652.0,1079.7 654.0,1078.6 656.0,1077.5 658.0,1076.4 660.0,1075.4 662.0,1074.3 664.0,1073.2 666.0,1072.1 668.0,1071.0 670.0,1069.9 672.0,1068.8 674.0,1067.7 676.0,1066.6 678.0,1065.4 680.0,1064.3 682.0,1063.2 684.0,1062.1 686.0,1061.0 688.0,1059.8 690.0,1058.7 692.0,1057.5 694.0,1056.4 696.0,1055.2 698.0,1054.0 700.0,1052.9 702.0,1051.7 704.0,1050.5 706.0,1049.2 708.0,1048.0 710.0,1046.8 712.0,1045.5 714.0,1044.2 716.0,1042.9 718.0,1041.6 720.0,1040.3 722.0,1039.0 724.0,1037.6 726.0,1036.2 728.0,1034.8 730.0,1033.4 732.0,1032.0 734.0,1030.5 736.0,1029.0 738.0,1027.5 740.0,1026.0 742.0,1024.4 744.0,1022.9 746.0,1021.3 748.0,1019.6 750.0,1018.0 752.0,1016.3 754.0,1014.6 756.0,1012.8 758.0,1011.1 760.0,1009.3 762.0,1007.5 764.0,1005.6 766.0,1003.8 768.0,1001.9 770.0,999.9 772.0,998.0 774.0,996.0 776.0,994.0 778.0,991.9 780.0,989.9 782.0,987.8 784.0,985.6 786.0,983.5 788.0,981.3 790.0,979.1 792.0,976.8 794.0,974.5 796.0,972.2 798.0,969.8 800.0,967.5 802.0,965.1 804.0,962.6 806.0,960.1 808.0,957.6 810.0,955.1 812.0,952.5 814.0,950.0 816.0,947.3 818.0,944.7 820.0,942.1 822.0,939.4 824.0,936.7 826.0,934.1 828.0,931.4 830.0,928.7 832.0,926.0 834.0,923.3 836.0,920.6 838.0,917.9 840.0,915.2 842.0,912.5 844.0,909.9 846.0,907.2 848.0,904.6 850.0,901.9 852.0,899.3 854.0,896.8 856.0,894.2 858.0,891.7 860.0,889.2 862.0,886.7 864.0,884.2 866.0,881.8 868.0,879.3 870.0,876.9 872.0,874.5 874.0,872.1 876.0,869.7 878.0,867.3 880.0,864.9 882.0,862.5 884.0,860.2 886.0,857.8 888.0,855.4 890.0,853.0 892.0,850.6 894.0,848.3 896.0,845.9 898.0,843.4 900.0,841.0 902.0,838.6 904.0,836.2 906.0,833.7 908.0,831.2 910.0,828.8 912.0,826.3 914.0,823.9 916.0,821.4 918.0,819.0 920.0,816.5 922.0,814.1 924.0,811.7 926.0,809.3 928.0,806.9 930.0,804.6 932.0,802.3 934.0,800.0 936.0,797.7 938.0,795.5 940.0,793.3 942.0,791.1 944.0,789.0 946.0,786.9 948.0,784.9 950.0,782.9 952.0,780.9 954.0,779.0 956.0,777.2 958.0,775.4 960.0,773.7 962.0,772.1 964.0,770.5 966.0,769.0 968.0,767.5 970.0,766.1 972.0,764.8 974.0,763.6 976.0,762.5 977.0,761.9 980.0,754.9 982.0,754.1 984.0,753.2 986.0,752.1 988.0,750.8 990.0,749.4 992.0,747.8 994.0,746.1 996.0,744.3 998.0,742.3 1000.0,740.1 1002.0,737.9 1004.0,735.5 1006.0,733.0 1008.0,730.3 1010.0,727.6 1012.0,724.7 1014.0,721.7 1016.0,718.6 1018.0,715.4 1020.0,712.1 1022.0,708.7 1024.0,705.2 1026.0,701.6 1028.0,698.0 1030.0,694.3 1032.0,690.5 1034.0,686.7 1036.0,682.8 1038.0,678.9 1040.0,675.0 1042.0,671.1 1044.0,667.2 1046.0,663.3 1048.0,659.4 1050.0,655.6 1052.0,651.7 1054.0,647.9 1056.0,644.2 1058.0,640.5 1060.0,636.9 1062.0,633.4 1064.0,629.9 1066.0,626.6 1068.0,623.3 1070.0,620.2 1072.0,617.2 1074.0,614.3 1076.0,611.5 1078.0,608.9 1080.0,606.5 1082.0,604.2 1084.0,602.0 1086.0,600.0 1088.0,598.2 1090.0,596.5 1092.0,595.0 1094.0,593.6 1096.0,592.3 1098.0,591.2 1100.0,590.2 1102.0,589.4 1104.0,588.7 1106.0,588.1 1108.0,587.7 1110.0,587.3 1112.0,587.2 1114.0,587.1 1116.0,587.2 1118.0,587.4 1120.0,587.7 1122.0,588.1 1124.0,588.7 1126.0,589.4 1128.0,590.1 1130.0,591.0 1132.0,592.0 1134.0,593.2 1136.0,594.4 1138.0,595.7 1140.0,597.2 1142.0,598.7 1144.0,600.3 1146.0,602.1 1148.0,603.9 1150.0,605.9 1152.0,607.9 1154.0,610.0 1156.0,612.2 1158.0,614.5 1160.0,616.9 1162.0,619.3 1164.0,621.9 1166.0,624.5 1168.0,627.2 1170.0,630.0 1172.0,632.8 1174.0,635.7 1176.0,638.7 1178.0,641.7 1180.0,644.8 1182.0,647.9 1184.0,651.1 1186.0,654.3 1188.0,657.6 1190.0,661.0 1192.0,664.4 1194.0,667.8 1196.0,671.3 1198.0,674.8 1200.0,678.3 1202.0,681.8 1204.0,685.4 1206.0,689.1 1208.0,692.7 1210.0,696.4 1212.0,700.0 1214.0,703.7 1216.0,707.4 1218.0,711.2 1220.0,714.9 1222.0,718.6 1224.0,722.4 1226.0,726.1 1228.0,729.9 1230.0,733.6 1232.0,737.4 1234.0,741.1 1236.0,744.8 1238.0,748.6 1240.0,752.3 1242.0,756.0 1244.0,759.7 1246.0,763.4 1248.0,767.0 1250.0,770.7 1252.0,774.3 1254.0,777.9 1256.0,781.5 1258.0,785.0 1260.0,788.6 1262.0,792.0 1264.0,795.5 1266.0,798.9 1268.0,802.3 1270.0,805.7 1272.0,809.1 1274.0,812.4 1276.0,815.7 1278.0,819.0 1280.0,822.3 1282.0,825.5 1284.0,828.7 1286.0,831.9 1288.0,835.1 1290.0,838.3 1292.0,841.5 1294.0,844.6 1296.0,847.7 1298.0,850.9 1300.0,854.0 1302.0,857.1 1304.0,860.1 1306.0,863.2 1308.0,866.3 1310.0,869.4 1312.0,872.4 1314.0,875.5 1316.0,878.5 1318.0,881.6 1320.0,884.6 1322.0,887.7 1324.0,890.7 1326.0,893.7 1328.0,896.7 1330.0,899.7 1332.0,902.7 1334.0,905.6 1336.0,908.6 1338.0,911.5 1340.0,914.3 1342.0,917.2 1344.0,920.0 1346.0,922.8 1348.0,925.5 1350.0,928.2 1352.0,930.8 1354.0,933.4 1356.0,935.9 1358.0,938.4 1360.0,940.9 1362.0,943.3 1364.0,945.6 1366.0,947.9 1368.0,950.2 1370.0,952.4 1372.0,954.6 1374.0,956.7 1376.0,958.9 1378.0,960.9 1380.0,962.9 1382.0,964.9 1384.0,966.9 1386.0,968.8 1388.0,970.7 1390.0,972.5 1392.0,974.4 1394.0,976.1 1396.0,977.9 1398.0,979.6 1400.0,981.3 1402.0,983.0 1404.0,984.6 1406.0,986.2 1408.0,987.8 1410.0,989.4 1412.0,990.9 1414.0,992.4 1416.0,993.9 1418.0,995.4 1420.0,996.9 1422.0,998.3 1424.0,999.7 1426.0,1001.1 1428.0,1002.5 1430.0,1003.8 1432.0,1005.2 1434.0,1006.5 1436.0,1007.8 1438.0,1009.1 1440.0,1010.4 1442.0,1011.7 1444.0,1012.9 1446.0,1014.2 1448.0,1015.4 1450.0,1016.7 1452.0,1017.9 1454.0,1019.1 1456.0,1020.3 1458.0,1021.5 1460.0,1022.7 1462.0,1023.8 1464.0,1025.0 1466.0,1026.1 1468.0,1027.3 1470.0,1028.4 1472.0,1029.5 1474.0,1030.6 1476.0,1031.7 1478.0,1032.8 1480.0,1033.9 1482.0,1034.9 1484.0,1036.0 1486.0,1037.0 1488.0,1038.1 1490.0,1039.1 1492.0,1040.1 1494.0,1041.1 1496.0,1042.1 1498.0,1043.1 1500.0,1044.1 1502.0,1045.0 1504.0,1046.0 1506.0,1046.9 1508.0,1047.9 1510.0,1048.8 1512.0,1049.7 1514.0,1050.7 1516.0,1051.6 1518.0,1052.5 1520.0,1053.3 1522.0,1054.2 1524.0,1055.1 1526.0,1056.0 1528.0,1056.8 1530.0,1057.7 1532.0,1058.5 1534.0,1059.3 1536.0,1060.1 1538.0,1060.9 1540.0,1061.8 1542.0,1062.6 1544.0,1063.3 1546.0,1064.1 1548.0,1064.9 1550.0,1065.7 1552.0,1066.4 1554.0,1067.2 1556.0,1067.9 1558.0,1068.6 1560.0,1069.4 1562.0,1070.1 1564.0,1070.8 1566.0,1071.5 1568.0,1072.2 1570.0,1072.9 1572.0,1073.6 1574.0,1074.3 1576.0,1075.0 1578.0,1075.6 1580.0,1076.3 1582.0,1076.9 1584.0,1077.6 1586.0,1078.2 1588.0,1078.9 1590.0,1079.5 1592.0,1080.1 1594.0,1080.7 1596.0,1081.3 1598.0,1081.9 1600.0,1082.5 1602.0,1083.1 1604.0,1083.7 1606.0,1084.3 1608.0,1084.9 1610.0,1085.4 1612.0,1086.0 1614.0,1086.5 1616.0,1087.1 1618.0,1087.6 1620.0,1088.2 1622.0,1088.7 1624.0,1089.3 1626.0,1089.8 1628.0,1090.3 1630.0,1090.8 1632.0,1091.3 1634.0,1091.8 1636.0,1092.3 1638.0,1092.8 1640.0,1093.3 1642.0,1093.8 1644.0,1094.3 1646.0,1094.8 1648.0,1095.3 1650.0,1095.7 1652.0,1096.2 1654.0,1096.7 1656.0,1097.1 1658.0,1097.6 1660.0,1098.0 1662.0,1098.5 1664.0,1098.9 1666.0,1099.4 1668.0,1099.8 1670.0,1100.2 1672.0,1100.7 1674.0,1101.1 1676.0,1101.5 1678.0,1102.0 1680.0,1102.4 1682.0,1102.8 1684.0,1103.2 1686.0,1103.6 1688.0,1104.0 1690.0,1104.4 1692.0,1104.8 1694.0,1105.2 1696.0,1105.6 1698.0,1106.0 1700.0,1106.4 1702.0,1106.8 1704.0,1107.2 1706.0,1107.5 1708.0,1107.9 1710.0,1108.3 1712.0,1108.7 1714.0,1109.1 1716.0,1109.4 1718.0,1109.8 1720.0,1110.2 1722.0,1110.5 1724.0,1110.9 1726.0,1111.3 1728.0,1111.6 1730.0,1112.0 1732.0,1112.4 1734.0,1112.7 1736.0,1113.1 1738.0,1113.4 1740.0,1113.8 1742.0,1114.1 1744.0,1114.5 1746.0,1114.8 1748.0,1115.2 1750.0,1115.5 1752.0,1115.9 1754.0,1116.3 1756.0,1116.6 1758.0,1116.9 1760.0,1117.3"/>
<polyline stroke="#0000ff" stroke-dasharray="64 37.5" points="250.0,1166.3 252.0,1166.1 254.0,1165.9 256.0,1165.7 258.0,1165.5 260.0,1165.2 262.0,1165.0 264.0,1164.8 266.0,1164.6 268.0,1164.4 270.0,1164.2 272.0,1164.0 274.0,1163.8 276.0,1163.6 278.0,1163.4 280.0,1163.2 282.0,1163.0 284.0,1162.9 286.0,1162.7 288.0,1162.5 290.0,1162.3 292.0,1162.1 294.0,1162.0 296.0,1161.8 298.0,1161.6 300.0,1161.4 302.0,1161.3 304.0,1161.1 306.0,1160.9 308.0,1160.8 310.0,1160.6 312.0,1160.4 314.0,1160.3 316.0,1160.1 318.0,1159.9 320.0,1159.8 322.0,1159.6 324.0,1159.5 326.0,1159.3 328.0,1159.2 330.0,1159.0 332.0,1158.9 334.0,1158.7 336.0,1158.5 338.0,1158.4 340.0,1158.2 342.0,1158.1 344.0,1157.9 346.0,1157.8 348.0,1157.6 350.0,1157.5 352.0,1157.3 354.0,1157.2 356.0,1157.0 358.0,1156.9 360.0,1156.7 362.0,1156.6 364.0,1156.4 366.0,1156.3 368.0,1156.2 370.0,1156.0 372.0,1155.9 374.0,1155.7 376.0,1155.5 378.0,1155.4 380.0,1155.2 382.0,1155.1 384.0,1154.9 386.0,1154.8 388.0,1154.6 390.0,1154.5 392.0,1154.3 394.0,1154.2 396.0,1154.0 398.0,1153.9 400.0,1153.7 402.0,1153.5 404.0,1153.4 406.0,1153.2 408.0,1153.0 410.0,1152.9 412.0,1152.7 414.0,1152.5 416.0,1152.4 418.0,1152.2 420.0,1152.0 422.0,1151.9 424.0,1151.7 426.0,1151.5 428.0,1151.3 430.0,1151.1 432.0,1151.0 434.0,1150.8 436.0,1150.6 438.0,1150.4 440.0,1150.2 442.0,1150.0 444.0,1149.8 446.0,1149.6 448.0,1149.4 450.0,1149.2 452.0,1149.0 454.0,1148.8 456.0,1148.6 458.0,1148.4 460.0,1148.2 462.0,1148.0 464.0,1147.8 466.0,1147.5 468.0,1147.3 470.0,1147.1 472.0,1146.9 474.0,1146.6 476.0,1146.4 478.0,1146.2 480.0,1145.9 482.0,1145.7 484.0,1145.4 486.0,1145.2 488.0,1144.9 490.0,1144.7 492.0,1144.4 494.0,1144.1 496.0,1143.9 498.0,1143.6 500.0,1143.3 502.0,1143.0 504.0,1142.8 506.0,1142.5 508.0,1142.2 510.0,1141.9 512.0,1141.6 514.0,1141.3 516.0,1141.0 518.0,1140.7 520.0,1140.4 522.0,1140.0 524.0,1139.7 526.0,1139.4 528.0,1139.1 530.0,1138.7 532.0,1138.4 534.0,1138.0 536.0,1137.7 538.0,1137.3 540.0,1137.0 542.0,1136.6 544.0,1136.2 546.0,1135.9 548.0,1135.5 550.0,1135.1 552.0,1134.7 554.0,1134.3 556.0,1133.9 558.0,1133.5 560.0,1133.1 562.0,1132.7 564.0,1132.3 566.0,1131.9 568.0,1131.5 570.0,1131.0 572.0,1130.6 574.0,1130.1 576.0,1129.7 578.0,1129.2 580.0,1128.8 582.0,1128.3 584.0,1127.8 586.0,1127.4 588.0,1126.9 590.0,1126.4 592.0,1125.9 594.0,1125.4 596.0,1124.9 598.0,1124.4 600.0,1123.8 602.0,1123.3 604.0,1122.8 606.0,1122.2 608.0,1121.7 610.0,1121.1 612.0,1120.5 614.0,1120.0 616.0,1119.4 618.0,1118.8 620.0,1118.2 622.0,1117.6 624.0,1116.9 626.0,1116.3 628.0,1115.7 630.0,1115.0 632.0,1114.4 634.0,1113.7 636.0,1113.0 638.0,1112.3 640.0,1111.6 642.0,1110.9 644.0,1110.2 646.0,1109.5 648.0,1108.7 650.0,1108.0 652.0,1107.2 654.0,1106.5 656.0,1105.7 658.0,1104.9 660.0,1104.1 662.0,1103.2 664.0,1102.4 666.0,1101.6 668.0,1100.7 670.0,1099.9 672.0,1099.0 674.0,1098.1 676.0,1097.2 678.0,1096.3 680.0,1095.3 682.0,1094.4 684.0,1093.4 686.0,1092.5 688.0,1091.5 690.0,1090.5 692.0,1089.5 694.0,1088.5 696.0,1087.4 698.0,1086.4 700.0,1085.3 702.0,1084.3 704.0,1083.2 706.0,1082.1 708.0,1081.0 710.0,1079.9 712.0,1078.8 714.0,1077.7 716.0,1076.6 718.0,1075.5 720.0,1074.3 722.0,1073.2 724.0,1072.0 726.0,1070.9 728.0,1069.7 730.0,1068.5 732.0,1067.3 734.0,1066.1 736.0,1064.9 738.0,1063.7 740.0,1062.5 742.0,1061.2 744.0,1059.9 746.0,1058.7 748.0,1057.4 750.0,1056.0 752.0,1054.7 754.0,1053.3 756.0,1052.0 758.0,1050.6 760.0,1049.2 762.0,1047.7 764.0,1046.3 766.0,1044.8 768.0,1043.3 770.0,1041.7 772.0,1040.1 774.0,1038.6 776.0,1036.9 778.0,1035.3 780.0,1033.6 782.0,1031.9 784.0,1030.2 786.0,1028.5 788.0,1026.7 790.0,1024.9 792.0,1023.1 794.0,1021.3 796.0,1019.5 798.0,1017.7 800.0,1015.8 802.0,1014.0 804.0,1012.1 806.0,1010.3 808.0,1008.4 810.0,1006.5 812.0,1004.7 814.0,1002.8 816.0,1001.0 818.0,999.1 820.0,997.3 822.0,995.5 824.0,993.6 826.0,991.8 828.0,990.0 830.0,988.1 832.0,986.3 834.0,984.5 836.0,982.7 838.0,980.8 840.0,979.0 842.0,977.2 844.0,975.4 846.0,973.6 848.0,971.7 850.0,969.9 852.0,968.1 854.0,966.3 856.0,964.5 858.0,962.6 860.0,960.8 862.0,959.0 864.0,957.1 866.0,955.3 868.0,953.4 870.0,951.6 872.0,949.7 874.0,947.9 876.0,946.0 878.0,944.1 880.0,942.2 882.0,940.3 884.0,938.4 886.0,936.4 888.0,934.5 890.0,932.5 892.0,930.6 894.0,928.6 896.0,926.6 898.0,924.6 900.0,922.5 902.0,920.5 904.0,918.5 906.0,916.4 908.0,914.3 910.0,912.2 912.0,910.2 914.0,908.1 916.0,906.0 918.0,903.9 920.0,901.9 922.0,899.8 924.0,897.8 926.0,895.8 928.0,893.8 930.0,891.8 932.0,889.9 934.0,888.0 936.0,886.1 938.0,884.2 940.0,882.4 942.0,880.7 944.0,878.9 946.0,877.2 948.0,875.6 950.0,874.0 952.0,872.5 954.0,871.0 956.0,869.6 958.0,868.2 960.0,866.9 962.0,865.7 964.0,864.6 966.0,863.5 968.0,862.5 970.0,861.6 972.0,860.7 974.0,860.0 978.0,856.1 980.0,855.6 982.0,855.0 984.0,854.2 986.0,853.4 988.0,852.4 990.0,851.2 992.0,850.0 994.0,848.6 996.0,847.1 998.0,845.6 1000.0,843.9 1002.0,842.1 1004.0,840.3 1006.0,838.3 1008.0,836.3 1010.0,834.2 1012.0,832.0 1014.0,829.8 1016.0,827.5 1018.0,825.2 1020.0,822.8 1022.0,820.4 1024.0,818.0 1026.0,815.5 1028.0,813.0 1030.0,810.4 1032.0,807.9 1034.0,805.3 1036.0,802.7 1038.0,800.2 1040.0,797.6 1042.0,795.0 1044.0,792.5 1046.0,790.0 1048.0,787.5 1050.0,785.0 1052.0,782.5 1054.0,780.2 1056.0,777.8 1058.0,775.5 1060.0,773.3 1062.0,771.1 1064.0,769.0 1066.0,766.9 1068.0,764.9 1070.0,763.0 1072.0,761.2 1074.0,759.5 1076.0,757.9 1078.0,756.4 1080.0,754.9 1082.0,753.6 1084.0,752.3 1086.0,751.2 1088.0,750.1 1090.0,749.1 1092.0,748.2 1094.0,747.4 1096.0,746.7 1098.0,746.1 1100.0,745.6 1102.0,745.2 1104.0,744.9 1106.0,744.6 1108.0,744.5 1110.0,744.5 1112.0,744.5 1114.0,744.7 1116.0,744.9 1118.0,745.2 1120.0,745.7 1122.0,746.2 1124.0,746.8 1126.0,747.5 1128.0,748.3 1130.0,749.2 1132.0,750.2 1134.0,751.3 1136.0,752.5 1138.0,753.8 1140.0,755.1 1142.0,756.5 1144.0,758.0 1146.0,759.6 1148.0,761.2 1150.0,762.9 1152.0,764.6 1154.0,766.4 1156.0,768.3 1158.0,770.2 1160.0,772.2 1162.0,774.2 1164.0,776.2 1166.0,778.3 1168.0,780.4 1170.0,782.6 1172.0,784.7 1174.0,786.9 1176.0,789.2 1178.0,791.4 1180.0,793.7 1182.0,795.9 1184.0,798.2 1186.0,800.5 1188.0,802.8 1190.0,805.1 1192.0,807.4 1194.0,809.7 1196.0,812.1 1198.0,814.4 1200.0,816.7 1202.0,819.0 1204.0,821.4 1206.0,823.7 1208.0,826.1 1210.0,828.5 1212.0,830.9 1214.0,833.3 1216.0,835.7 1218.0,838.1 1220.0,840.6 1222.0,843.1 1224.0,845.6 1226.0,848.1 1228.0,850.7 1230.0,853.3 1232.0,855.9 1234.0,858.5 1236.0,861.2 1238.0,863.9 1240.0,866.6 1242.0,869.4 1244.0,872.1 1246.0,874.9 1248.0,877.7 1250.0,880.5 1252.0,883.3 1254.0,886.1 1256.0,888.9 1258.0,891.7 1260.0,894.5 1262.0,897.3 1264.0,900.1 1266.0,902.9 1268.0,905.7 1270.0,908.5 1272.0,911.3 1274.0,914.0 1276.0,916.7 1278.0,919.4 1280.0,922.1 1282.0,924.8 1284.0,927.4 1286.0,930.0 1288.0,932.6 1290.0,935.1 1292.0,937.6 1294.0,940.1 1296.0,942.5 1298.0,944.9 1300.0,947.3 1302.0,949.7 1304.0,952.0 1306.0,954.3 1308.0,956.5 1310.0,958.8 1312.0,961.0 1314.0,963.2 1316.0,965.3 1318.0,967.4 1320.0,969.5 1322.0,971.6 1324.0,973.6 1326.0,975.7 1328.0,977.6 1330.0,979.6 1332.0,981.5 1334.0,983.5 1336.0,985.4 1338.0,987.2 1340.0,989.1 1342.0,990.9 1344.0,992.7 1346.0,994.5 1348.0,996.2 1350.0,997.9 1352.0,999.6 1354.0,1001.3 1356.0,1003.0 1358.0,1004.6 1360.0,1006.3 1362.0,1007.9 1364.0,1009.4 1366.0,1011.0 1368.0,1012.6 1370.0,1014.1 1372.0,1015.6 1374.0,1017.1 1376.0,1018.5 1378.0,1020.0 1380.0,1021.4 1382.0,1022.8 1384.0,1024.2 1386.0,1025.6 1388.0,1027.0 1390.0,1028.4 1392.0,1029.7 1394.0,1031.0 1396.0,1032.3 1398.0,1033.6 1400.0,1034.9 1402.0,1036.2 1404.0,1037.4 1406.0,1038.6 1408.0,1039.9 1410.0,1041.1 1412.0,1042.3 1414.0,1043.5 1416.0,1044.6 1418.0,1045.8 1420.0,1047.0 1422.0,1048.1 1424.0,1049.2 1426.0,1050.4 1428.0,1051.5 1430.0,1052.6 1432.0,1053.6 1434.0,1054.7 1436.0,1055.8 1438.0,1056.8 1440.0,1057.9 1442.0,1058.9 1444.0,1059.9 1446.0,1060.9 1448.0,1061.9 1450.0,1062.9 1452.0,1063.9 1454.0,1064.8 1456.0,1065.8 1458.0,1066.7 1460.0,1067.6 1462.0,1068.6 1464.0,1069.5 1466.0,1070.4 1468.0,1071.3 1470.0,1072.2 1472.0,1073.0 1474.0,1073.9 1476.0,1074.7 1478.0,1075.6 1480.0,1076.4 1482.0,1077.2 1484.0,1078.1 1486.0,1078.9 1488.0,1079.7 1490.0,1080.5 1492.0,1081.2 1494.0,1082.0 1496.0,1082.8 1498.0,1083.5 1500.0,1084.3 1502.0,1085.0 1504.0,1085.7 1506.0,1086.4 1508.0,1087.2 1510.0,1087.9 1512.0,1088.6 1514.0,1089.2 1516.0,1089.9 1518.0,1090.6 1520.0,1091.3 1522.0,1091.9 1524.0,1092.6 1526.0,1093.2 1528.0,1093.8 1530.0,1094.5 1532.0,1095.1 1534.0,1095.7 1536.0,1096.3 1538.0,1096.9 1540.0,1097.5 1542.0,1098.1 1544.0,1098.6 1546.0,1099.2 1548.0,1099.8 1550.0,1100.3 1552.0,1100.9 1554.0,1101.4 1556.0,1101.9 1558.0,1102.5 1560.0,1103.0 1562.0,1103.5 1564.0,1104.0 1566.0,1104.5 1568.0,1105.0 1570.0,1105.5 1572.0,1106.0 1574.0,1106.5 1576.0,1107.0 1578.0,1107.5 1580.0,1107.9 1582.0,1108.4 1584.0,1108.8 1586.0,1109.3 1588.0,1109.7 1590.0,1110.2 1592.0,1110.6 1594.0,1111.1 1596.0,1111.5 1598.0,1111.9 1600.0,1112.3 1602.0,1112.7 1604.0,1113.1 1606.0,1113.6 1608.0,1114.0 1610.0,1114.4 1612.0,1114.7 1614.0,1115.1 1616.0,1115.5 1618.0,1115.9 1620.0,1116.3 1622.0,1116.7 1624.0,1117.0 1626.0,1117.4 1628.0,1117.8 1630.0,1118.1 1632.0,1118.5 1634.0,1118.8 1636.0,1119.2 1638.0,1119.5 1640.0,1119.9 1642.0,1120.2 1644.0,1120.6 1646.0,1120.9 1648.0,1121.2 1650.0,1121.6 1652.0,1121.9 1654.0,1122.2 1656.0,1122.5 1658.0,1122.9 1660.0,1123.2 1662.0,1123.5 1664.0,1123.8 1666.0,1124.1 1668.0,1124.4 1670.0,1124.8 1672.0,1125.1 1674.0,1125.4 1676.0,1125.7 1678.0,1126.0 1680.0,1126.3 1682.0,1126.6 1684.0,1126.9 1686.0,1127.2 1688.0,1127.5 1690.0,1127.8 1692.0,1128.1 1694.0,1128.4 1696.0,1128.7 1698.0,1129.0 1700.0,1129.3 1702.0,1129.6 1704.0,1129.9 1706.0,1130.2 1708.0,1130.5 1710.0,1130.8 1712.0,1131.1 1714.0,1131.4 1716.0,1131.7 1718.0,1132.0 1720.0,1132.3 1722.0,1132.6 1724.0,1132.9 1726.0,1133.2 1728.0,1133.5 1730.0,1133.8 1732.0,1134.1 1734.0,1134.4 1736.0,1134.7 1738.0,1135.0 1740.0,1135.3 1742.0,1135.6 1744.0,1135.9 1746.0,1136.2 1748.0,1136.5 1750.0,1136.8 1752.0,1137.1 1754.0,1137.5 1756.0,1137.8 1758.0,1138.1 1760.0,1138.4"/>
<polyline stroke="#0000ff" stroke-dasharray="64 37.5" points="250.0,1172.2 252.0,1172.0 254.0,1171.8 256.0,1171.6 258.0,1171.3 260.0,1171.1 262.0,1170.9 264.0,1170.7 266.0,1170.5 268.0,1170.3 270.0,1170.1 272.0,1169.9 274.0,1169.7 276.0,1169.5 278.0,1169.4 280.0,1169.2 282.0,1169.0 284.0,1168.8 286.0,1168.7 288.0,1168.5 290.0,1168.3 292.0,1168.2 294.0,1168.0 296.0,1167.8 298.0,1167.7 300.0,1167.5 302.0,1167.4 304.0,1167.2 306.0,1167.1 308.0,1166.9 310.0,1166.8 312.0,1166.7 314.0,1166.5 316.0,1166.4 318.0,1166.3 320.0,1166.1 322.0,1166.0 324.0,1165.9 326.0,1165.7 328.0,1165.6 330.0,1165.5 332.0,1165.4 334.0,1165.3 336.0,1165.1 338.0,1165.0 340.0,1164.9 342.0,1164.8 344.0,1164.7 346.0,1164.6 348.0,1164.5 350.0,1164.4 352.0,1164.3 354.0,1164.1 356.0,1164.0 358.0,1163.9 360.0,1163.8 362.0,1163.7 364.0,1163.6 366.0,1163.5 368.0,1163.4 370.0,1163.3 372.0,1163.2 374.0,1163.1 376.0,1163.0 378.0,1162.9 380.0,1162.8 382.0,1162.7 384.0,1162.6 386.0,1162.5 388.0,1162.4 390.0,1162.3 392.0,1162.2 394.0,1162.1 396.0,1162.0 398.0,1161.9 400.0,1161.8 402.0,1161.7 404.0,1161.6 406.0,1161.5 408.0,1161.4 410.0,1161.3 412.0,1161.2 414.0,1161.1 416.0,1161.0 418.0,1160.9 420.0,1160.8 422.0,1160.7 424.0,1160.5 426.0,1160.4 428.0,1160.3 430.0,1160.2 432.0,1160.1 434.0,1160.0 436.0,1159.9 438.0,1159.7 440.0,1159.6 442.0,1159.5 444.0,1159.4 446.0,1159.2 448.0,1159.1 450.0,1159.0 452.0,1158.8 454.0,1158.7 456.0,1158.6 458.0,1158.4 460.0,1158.3 462.0,1158.2 464.0,1158.0 466.0,1157.9 468.0,1157.7 470.0,1157.6 472.0,1157.4 474.0,1157.3 476.0,1157.1 478.0,1156.9 480.0,1156.8 482.0,1156.6 484.0,1156.4 486.0,1156.3 488.0,1156.1 490.0,1155.9 492.0,1155.7 494.0,1155.5 496.0,1155.3 498.0,1155.2 500.0,1155.0 502.0,1154.8 504.0,1154.6 506.0,1154.4 508.0,1154.1 510.0,1153.9 512.0,1153.7 514.0,1153.5 516.0,1153.3 518.0,1153.0 520.0,1152.8 522.0,1152.6 524.0,1152.3 526.0,1152.1 528.0,1151.8 530.0,1151.6 532.0,1151.3 534.0,1151.1 536.0,1150.8 538.0,1150.5 540.0,1150.3 542.0,1150.0 544.0,1149.7 546.0,1149.4 548.0,1149.1 550.0,1148.8 552.0,1148.5 554.0,1148.2 556.0,1147.9 558.0,1147.6 560.0,1147.3 562.0,1146.9 564.0,1146.6 566.0,1146.3 568.0,1145.9 570.0,1145.6 572.0,1145.2 574.0,1144.9 576.0,1144.5 578.0,1144.1 580.0,1143.8 582.0,1143.4 584.0,1143.0 586.0,1142.6 588.0,1142.2 590.0,1141.8 592.0,1141.4 594.0,1141.0 596.0,1140.6 598.0,1140.1 600.0,1139.7 602.0,1139.3 604.0,1138.8 606.0,1138.4 608.0,1137.9 610.0,1137.4 612.0,1137.0 614.0,1136.5 616.0,1136.0 618.0,1135.5 620.0,1135.0 622.0,1134.5 624.0,1134.0 626.0,1133.5 628.0,1132.9 630.0,1132.4 632.0,1131.9 634.0,1131.3 636.0,1130.8 638.0,1130.2 640.0,1129.6 642.0,1129.0 644.0,1128.5 646.0,1127.9 648.0,1127.3 650.0,1126.7 652.0,1126.0 654.0,1125.4 656.0,1124.8 658.0,1124.1 660.0,1123.5 662.0,1122.8 664.0,1122.2 666.0,1121.5 668.0,1120.8 670.0,1120.1 672.0,1119.4 674.0,1118.7 676.0,1118.0 678.0,1117.3 680.0,1116.6 682.0,1115.8 684.0,1115.1 686.0,1114.3 688.0,1113.6 690.0,1112.8 692.0,1112.0 694.0,1111.2 696.0,1110.4 698.0,1109.6 700.0,1108.8 702.0,1108.0 704.0,1107.1 706.0,1106.3 708.0,1105.4 710.0,1104.6 712.0,1103.7 714.0,1102.8 716.0,1101.9 718.0,1101.0 720.0,1100.1 722.0,1099.2 724.0,1098.2 726.0,1097.3 728.0,1096.3 730.0,1095.4 732.0,1094.4 734.0,1093.4 736.0,1092.4 738.0,1091.4 740.0,1090.4 742.0,1089.4 744.0,1088.4 746.0,1087.3 748.0,1086.3 750.0,1085.2 752.0,1084.1 754.0,1083.0 756.0,1081.9 758.0,1080.8 760.0,1079.7 762.0,1078.6 764.0,1077.4 766.0,1076.3 768.0,1075.1 770.0,1073.9 772.0,1072.8 774.0,1071.6 776.0,1070.3 778.0,1069.1 780.0,1067.9 782.0,1066.7 784.0,1065.4 786.0,1064.1 788.0,1062.9 790.0,1061.6 792.0,1060.3 794.0,1059.0 796.0,1057.6 798.0,1056.3 800.0,1055.0 802.0,1053.6 804.0,1052.2 806.0,1050.9 808.0,1049.5 810.0,1048.1 812.0,1046.7 814.0,1045.3 816.0,1043.8 818.0,1042.4 820.0,1041.0 822.0,1039.5 824.0,1038.1 826.0,1036.6 828.0,1035.2 830.0,1033.7 832.0,1032.3 834.0,1030.8 836.0,1029.3 838.0,1027.8 840.0,1026.4 842.0,1024.9 844.0,1023.4 846.0,1021.9 848.0,1020.4 850.0,1018.9 852.0,1017.4 854.0,1016.0 856.0,1014.5 858.0,1013.0 860.0,1011.5 862.0,1010.0 864.0,1008.5 866.0,1007.0 868.0,1005.6 870.0,1004.1 872.0,1002.6 874.0,1001.1 876.0,999.7 878.0,998.2 880.0,996.8 882.0,995.3 884.0,993.9 886.0,992.4 888.0,991.0 890.0,989.6 892.0,988.2 894.0,986.8 896.0,985.4 898.0,984.0 900.0,982.6 902.0,981.2 904.0,979.9 906.0,978.5 908.0,977.2 910.0,975.8 912.0,974.5 914.0,973.2 916.0,971.9 918.0,970.6 920.0,969.4 922.0,968.1 924.0,966.9 926.0,965.7 928.0,964.4 930.0,963.3 932.0,962.1 934.0,960.9 936.0,959.8 938.0,958.6 940.0,957.5 942.0,956.4 944.0,955.3 946.0,954.3 948.0,953.2 950.0,952.2 952.0,951.2 954.0,950.2 956.0,949.2 958.0,948.3 960.0,947.4 962.0,946.5 964.0,945.6 966.0,944.7 968.0,943.9 970.0,943.1 972.0,942.3 974.0,941.5 975.0,941.2 980.0,935.2 982.0,934.5 984.0,933.8 986.0,932.9 988.0,932.0 990.0,931.1 992.0,930.1 994.0,929.1 996.0,928.0 998.0,926.9 1000.0,925.7 1002.0,924.5 1004.0,923.3 1006.0,922.0 1008.0,920.7 1010.0,919.4 1012.0,918.1 1014.0,916.7 1016.0,915.4 1018.0,914.0 1020.0,912.6 1022.0,911.2 1024.0,909.8 1026.0,908.4 1028.0,907.1 1030.0,905.7 1032.0,904.3 1034.0,902.9 1036.0,901.6 1038.0,900.3 1040.0,899.0 1042.0,897.7 1044.0,896.5 1046.0,895.2 1048.0,894.1 1050.0,892.9 1052.0,891.8 1054.0,890.8 1056.0,889.7 1058.0,888.8 1060.0,887.9 1062.0,887.0 1064.0,886.2 1066.0,885.4 1068.0,884.7 1070.0,884.1 1072.0,883.5 1074.0,883.0 1076.0,882.5 1078.0,882.1 1080.0,881.7 1082.0,881.4 1084.0,881.1 1086.0,880.9 1088.0,880.7 1090.0,880.6 1092.0,880.5 1094.0,880.5 1096.0,880.5 1098.0,880.6 1100.0,880.7 1102.0,880.9 1104.0,881.1 1106.0,881.4 1108.0,881.7 1110.0,882.1 1112.0,882.5 1114.0,883.0 1116.0,883.5 1118.0,884.0 1120.0,884.6 1122.0,885.3 1124.0,886.0 1126.0,886.7 1128.0,887.5 1130.0,888.3 1132.0,889.2 1134.0,890.1 1136.0,891.0 1138.0,892.0 1140.0,893.1 1142.0,894.1 1144.0,895.3 1146.0,896.4 1148.0,897.6 1150.0,898.9 1152.0,900.1 1154.0,901.5 1156.0,902.8 1158.0,904.2 1160.0,905.6 1162.0,907.1 1164.0,908.6 1166.0,910.2 1168.0,911.7 1170.0,913.3 1172.0,914.9 1174.0,916.6 1176.0,918.3 1178.0,920.0 1180.0,921.7 1182.0,923.5 1184.0,925.3 1186.0,927.1 1188.0,928.9 1190.0,930.7 1192.0,932.6 1194.0,934.5 1196.0,936.4 1198.0,938.3 1200.0,940.2 1202.0,942.2 1204.0,944.2 1206.0,946.1 1208.0,948.1 1210.0,950.1 1212.0,952.1 1214.0,954.1 1216.0,956.1 1218.0,958.1 1220.0,960.2 1222.0,962.2 1224.0,964.2 1226.0,966.2 1228.0,968.3 1230.0,970.3 1232.0,972.3 1234.0,974.4 1236.0,976.4 1238.0,978.4 1240.0,980.4 1242.0,982.4 1244.0,984.4 1246.0,986.4 1248.0,988.4 1250.0,990.3 1252.0,992.3 1254.0,994.2 1256.0,996.1 1258.0,998.1 1260.0,999.9 1262.0,1001.8 1264.0,1003.7 1266.0,1005.5 1268.0,1007.3 1270.0,1009.1 1272.0,1010.9 1274.0,1012.6 1276.0,1014.4 1278.0,1016.1 1280.0,1017.7 1282.0,1019.4 1284.0,1021.0 1286.0,1022.7 1288.0,1024.3 1290.0,1025.8 1292.0,1027.4 1294.0,1028.9 1296.0,1030.4 1298.0,1031.9 1300.0,1033.4 1302.0,1034.9 1304.0,1036.3 1306.0,1037.7 1308.0,1039.1 1310.0,1040.5 1312.0,1041.9 1314.0,1043.3 1316.0,1044.6 1318.0,1045.9 1320.0,1047.2 1322.0,1048.5 1324.0,1049.8 1326.0,1051.0 1328.0,1052.3 1330.0,1053.5 1332.0,1054.7 1334.0,1055.9 1336.0,1057.1 1338.0,1058.3 1340.0,1059.5 1342.0,1060.6 1344.0,1061.7 1346.0,1062.9 1348.0,1064.0 1350.0,1065.1 1352.0,1066.2 1354.0,1067.2 1356.0,1068.3 1358.0,1069.4 1360.0,1070.4 1362.0,1071.4 1364.0,1072.5 1366.0,1073.5 1368.0,1074.5 1370.0,1075.5 1372.0,1076.5 1374.0,1077.4 1376.0,1078.4 1378.0,1079.4 1380.0,1080.3 1382.0,1081.3 1384.0,1082.2 1386.0,1083.1 1388.0,1084.1 1390.0,1085.0 1392.0,1085.9 1394.0,1086.8 1396.0,1087.7 1398.0,1088.6 1400.0,1089.4 1402.0,1090.3 1404.0,1091.2 1406.0,1092.0 1408.0,1092.8 1410.0,1093.7 1412.0,1094.5 1414.0,1095.3 1416.0,1096.1 1418.0,1096.9 1420.0,1097.7 1422.0,1098.5 1424.0,1099.3 1426.0,1100.1 1428.0,1100.8 1430.0,1101.6 1432.0,1102.3 1434.0,1103.1 1436.0,1103.8 1438.0,1104.5 1440.0,1105.3 1442.0,1106.0 1444.0,1106.7 1446.0,1107.4 1448.0,1108.1 1450.0,1108.8 1452.0,1109.4 1454.0,1110.1 1456.0,1110.8 1458.0,1111.4 1460.0,1112.1 1462.0,1112.7 1464.0,1113.4 1466.0,1114.0 1468.0,1114.6 1470.0,1115.2 1472.0,1115.8 1474.0,1116.4 1476.0,1117.0 1478.0,1117.6 1480.0,1118.2 1482.0,1118.8 1484.0,1119.4 1486.0,1119.9 1488.0,1120.5 1490.0,1121.0 1492.0,1121.6 1494.0,1122.1 1496.0,1122.7 1498.0,1123.2 1500.0,1123.7 1502.0,1124.2 1504.0,1124.7 1506.0,1125.3 1508.0,1125.8 1510.0,1126.2 1512.0,1126.7 1514.0,1127.2 1516.0,1127.7 1518.0,1128.2 1520.0,1128.6 1522.0,1129.1 1524.0,1129.5 1526.0,1130.0 1528.0,1130.4 1530.0,1130.9 1532.0,1131.3 1534.0,1131.7 1536.0,1132.1 1538.0,1132.6 1540.0,1133.0 1542.0,1133.4 1544.0,1133.8 1546.0,1134.2 1548.0,1134.6 1550.0,1134.9 1552.0,1135.3 1554.0,1135.7 1556.0,1136.1 1558.0,1136.4 1560.0,1136.8 1562.0,1137.1 1564.0,1137.5 1566.0,1137.8 1568.0,1138.2 1570.0,1138.5 1572.0,1138.8 1574.0,1139.2 1576.0,1139.5 1578.0,1139.8 1580.0,1140.1 1582.0,1140.4 1584.0,1140.7 1586.0,1141.0 1588.0,1141.3 1590.0,1141.6 1592.0,1141.9 1594.0,1142.2 1596.0,1142.5 1598.0,1142.8 1600.0,1143.0 1602.0,1143.3 1604.0,1143.6 1606.0,1143.8 1608.0,1144.1 1610.0,1144.3 1612.0,1144.6 1614.0,1144.8 1616.0,1145.1 1618.0,1145.3 1620.0,1145.5 1622.0,1145.8 1624.0,1146.0 1626.0,1146.2 1628.0,1146.4 1630.0,1146.7 1632.0,1146.9 1634.0,1147.1 1636.0,1147.3 1638.0,1147.5 1640.0,1147.7 1642.0,1147.9 1644.0,1148.1 1646.0,1148.3 1648.0,1148.4 1650.0,1148.6 1652.0,1148.8 1654.0,1149.0 1656.0,1149.2 1658.0,1149.3 1660.0,1149.5 1662.0,1149.7 1664.0,1149.8 1666.0,1150.0 1668.0,1150.1 1670.0,1150.3 1672.0,1150.5 1674.0,1150.6 1676.0,1150.8 1678.0,1150.9 1680.0,1151.0 1682.0,1151.2 1684.0,1151.3 1686.0,1151.5 1688.0,1151.6 1690.0,1151.7 1692.0,1151.8 1694.0,1152.0 1696.0,1152.1 1698.0,1152.2 1700.0,1152.3 1702.0,1152.5 1704.0,1152.6 1706.0,1152.7 1708.0,1152.8 1710.0,1152.9 1712.0,1153.0 1714.0,1153.1 1716.0,1153.2 1718.0,1153.3 1720.0,1153.4 1722.0,1153.5 1724.0,1153.6 1726.0,1153.7 1728.0,1153.8 1730.0,1153.9 1732.0,1154.0 1734.0,1154.1 1736.0,1154.2 1738.0,1154.3 1740.0,1154.4 1742.0,1154.5 1744.0,1154.6 1746.0,1154.6 1748.0,1154.7 1750.0,1154.8 1752.0,1154.9 1754.0,1155.0 1756.0,1155.0 1758.0,1155.1 1760.0,1155.2"/>
</g>
<g fill="none" stroke="#000" stroke-width="7.8">
<circle cx="1120.25" cy="435.4" r="25.9"/>
<circle cx="1117.75" cy="594.5" r="25.9"/>
<circle cx="1112.75" cy="743.5" r="25.9"/>
<circle cx="1097" cy="897.5" r="25.9"/>
</g>
<line x1="301" y1="110.0" x2="560" y2="110.0" stroke="#ff00ff" stroke-width="10"/>
<text x="578" y="134.6" font-size="69" fill="#000" stroke="#000">100%Load</text>
<line x1="301" y1="202.6" x2="560" y2="202.6" stroke="#00ffff" stroke-width="10"/>
<text x="578" y="227.2" font-size="69" fill="#000" stroke="#000">75%Load</text>
<line x1="301" y1="295.2" x2="560" y2="295.2" stroke="#00ff00" stroke-width="10"/>
<text x="578" y="319.8" font-size="69" fill="#000" stroke="#000">50%Load</text>
<line x1="301" y1="387.8" x2="560" y2="387.8" stroke="#ff0000" stroke-width="10"/>
<text x="578" y="412.4" font-size="69" fill="#000" stroke="#000">25%Load</text>
<text x="963" y="155.7" font-size="69" fill="#000" stroke="#000">Solid lines:Present work</text>
<text x="963" y="252.2" font-size="69" fill="#000" stroke="#000">Dash lines:Gan et al.[20]</text>
<text x="963" y="348.7" font-size="69" fill="#000" stroke="#000">O:Experiment pressure</text>
<text transform="translate(247.30,1265.5) scale(1,1.03)" font-size="69" fill="#262626" stroke="#262626" text-anchor="middle">-90</text>
<text transform="translate(498.08,1265.5) scale(1,1.03)" font-size="69" fill="#262626" stroke="#262626" text-anchor="middle">-60</text>
<text transform="translate(750.17,1265.5) scale(1,1.03)" font-size="69" fill="#262626" stroke="#262626" text-anchor="middle">-30</text>
<text transform="translate(1004.40,1265.5) scale(1,1.03)" font-size="69" fill="#262626" stroke="#262626" text-anchor="middle">0</text>
<text transform="translate(1254.83,1265.5) scale(1,1.03)" font-size="69" fill="#262626" stroke="#262626" text-anchor="middle">30</text>
<text transform="translate(1506.42,1265.5) scale(1,1.03)" font-size="69" fill="#262626" stroke="#262626" text-anchor="middle">60</text>
<text transform="translate(1758.00,1265.5) scale(1,1.03)" font-size="69" fill="#262626" stroke="#262626" text-anchor="middle">90</text>
<text transform="translate(234,1206.50) scale(1,1.03)" font-size="69" fill="#262626" stroke="#262626" text-anchor="end">0</text>
<text transform="translate(234,1013.92) scale(1,1.03)" font-size="69" fill="#262626" stroke="#262626" text-anchor="end">40</text>
<text transform="translate(234,821.33) scale(1,1.03)" font-size="69" fill="#262626" stroke="#262626" text-anchor="end">80</text>
<text transform="translate(234,628.75) scale(1,1.03)" font-size="69" fill="#262626" stroke="#262626" text-anchor="end">120</text>
<text transform="translate(234,436.17) scale(1,1.03)" font-size="69" fill="#262626" stroke="#262626" text-anchor="end">160</text>
<text transform="translate(234,243.58) scale(1,1.03)" font-size="69" fill="#262626" stroke="#262626" text-anchor="end">200</text>
<text x="1004.75" y="1362" font-size="76.1" fill="#262626" stroke="#262626" text-anchor="middle">Crank angle(°CA)</text>
<text transform="translate(84.2,598.7) rotate(-90)" font-size="76.7" fill="#262626" stroke="#262626" text-anchor="middle">Pressure(bar)</text>
</svg></body></html>
